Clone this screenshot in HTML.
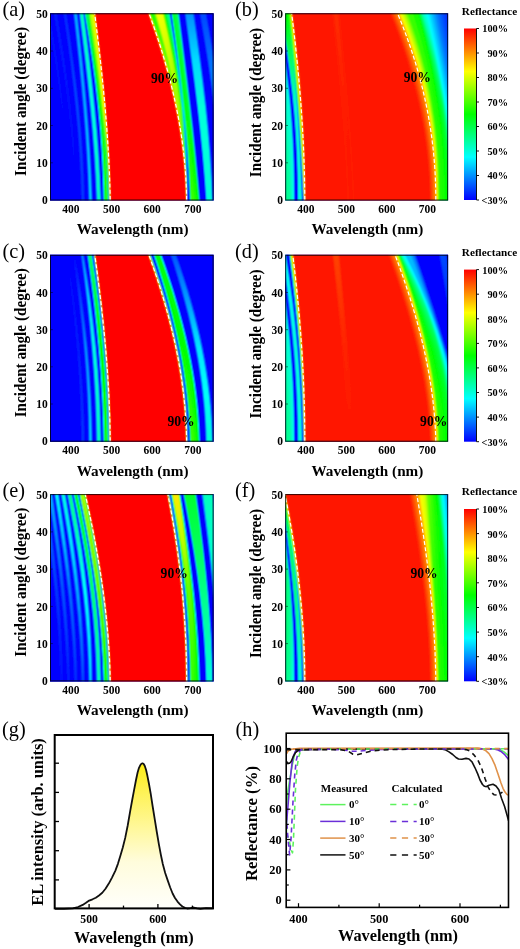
<!DOCTYPE html>
<html><head><meta charset="utf-8"><title>Figure</title>
<style>
html,body{margin:0;padding:0;background:#fff}
svg{display:block}
text{font-family:'Liberation Serif',serif;fill:#000}
.t{font-size:11.5px;font-weight:bold}
.t2{font-size:12.3px;font-weight:bold}
.tg{font-size:11.7px;font-weight:bold}
.axg{font-size:16.4px;font-weight:bold}
.axh{font-size:16.8px;font-weight:bold}
.ax{font-size:15.2px;font-weight:bold}
.ax2{font-size:16.3px;font-weight:bold}
.pl{font-size:20.3px}
.l90{font-size:13.6px;font-weight:bold}
.cb{font-size:10.3px;font-weight:bold}
.cbt{font-size:11.2px;font-weight:bold}
.lg{font-size:11px;font-weight:bold}
</style></head>
<body>
<svg width="520" height="949" viewBox="0 0 520 949">
<defs>
<filter id="bl" x="-2%" y="-2%" width="104%" height="104%"><feConvolveMatrix order="3 3" kernelMatrix=".03 .14 .03 .14 .32 .14 .03 .14 .03" edgeMode="duplicate" preserveAlpha="true"/></filter>
<clipPath id="ca"><rect x="50" y="13.3" width="163.6" height="187.2"/></clipPath><linearGradient id="g1" gradientUnits="userSpaceOnUse" x1="0" y1="200.0" x2="0" y2="13.8"><stop offset="0" stop-color="#00f"/><stop offset="0.25" stop-color="#0004ff"/><stop offset="0.5" stop-color="#0007ff"/><stop offset="0.75" stop-color="#000fff"/><stop offset="1" stop-color="#0016ff"/></linearGradient><linearGradient id="g2" gradientUnits="userSpaceOnUse" x1="0" y1="200.0" x2="0" y2="13.8"><stop offset="0" stop-color="#00f"/><stop offset="0.25" stop-color="#0004ff"/><stop offset="0.5" stop-color="#0007ff"/><stop offset="0.75" stop-color="#000bff"/><stop offset="1" stop-color="#000fff"/></linearGradient><linearGradient id="g3" gradientUnits="userSpaceOnUse" x1="0" y1="200.0" x2="0" y2="13.8"><stop offset="0" stop-color="#00f"/><stop offset="0.25" stop-color="#0007ff"/><stop offset="0.5" stop-color="#000fff"/><stop offset="0.75" stop-color="#0016ff"/><stop offset="1" stop-color="#001dff"/></linearGradient><linearGradient id="g4" gradientUnits="userSpaceOnUse" x1="0" y1="200.0" x2="0" y2="13.8"><stop offset="0" stop-color="#00f"/><stop offset="0.25" stop-color="#0004ff"/><stop offset="0.5" stop-color="#0007ff"/><stop offset="0.75" stop-color="#000bff"/><stop offset="1" stop-color="#000fff"/></linearGradient><linearGradient id="g5" gradientUnits="userSpaceOnUse" x1="0" y1="200.0" x2="0" y2="13.8"><stop offset="0" stop-color="#001dff"/><stop offset="0.25" stop-color="#0021ff"/><stop offset="0.5" stop-color="#0024ff"/><stop offset="0.75" stop-color="#001dff"/><stop offset="1" stop-color="#0016ff"/></linearGradient><linearGradient id="g6" gradientUnits="userSpaceOnUse" x1="0" y1="200.0" x2="0" y2="13.8"><stop offset="0" stop-color="#003aff"/><stop offset="0.25" stop-color="#0042ff"/><stop offset="0.5" stop-color="#0049ff"/><stop offset="0.75" stop-color="#003aff"/><stop offset="1" stop-color="#002cff"/></linearGradient><linearGradient id="g7" gradientUnits="userSpaceOnUse" x1="0" y1="200.0" x2="0" y2="13.8"><stop offset="0" stop-color="#001dff"/><stop offset="0.25" stop-color="#0021ff"/><stop offset="0.5" stop-color="#0024ff"/><stop offset="0.75" stop-color="#001dff"/><stop offset="1" stop-color="#0016ff"/></linearGradient><linearGradient id="g8" gradientUnits="userSpaceOnUse" x1="0" y1="200.0" x2="0" y2="13.8"><stop offset="0" stop-color="#006dff"/><stop offset="0.25" stop-color="#0062ff"/><stop offset="0.5" stop-color="#0057ff"/><stop offset="0.75" stop-color="#0057ff"/><stop offset="1" stop-color="#0057ff"/></linearGradient><linearGradient id="g9" gradientUnits="userSpaceOnUse" x1="0" y1="200.0" x2="0" y2="13.8"><stop offset="0" stop-color="#00dbff"/><stop offset="0.25" stop-color="#00c5ff"/><stop offset="0.5" stop-color="#00afff"/><stop offset="0.75" stop-color="#00afff"/><stop offset="1" stop-color="#00afff"/></linearGradient><linearGradient id="g10" gradientUnits="userSpaceOnUse" x1="0" y1="200.0" x2="0" y2="13.8"><stop offset="0" stop-color="#006dff"/><stop offset="0.25" stop-color="#0062ff"/><stop offset="0.5" stop-color="#0057ff"/><stop offset="0.75" stop-color="#0057ff"/><stop offset="1" stop-color="#0057ff"/></linearGradient><linearGradient id="g11" gradientUnits="userSpaceOnUse" x1="0" y1="200.0" x2="0" y2="13.8"><stop offset="0" stop-color="#00a0ff"/><stop offset="0.25" stop-color="#09f"/><stop offset="0.5" stop-color="#0092ff"/><stop offset="0.75" stop-color="#09f"/><stop offset="1" stop-color="#00a0ff"/></linearGradient><linearGradient id="g12" gradientUnits="userSpaceOnUse" x1="0" y1="200.0" x2="0" y2="13.8"><stop offset="0" stop-color="#00ffbd"/><stop offset="0.25" stop-color="#0fc"/><stop offset="0.5" stop-color="#00ffdb"/><stop offset="0.75" stop-color="#0fc"/><stop offset="1" stop-color="#00ffbd"/></linearGradient><linearGradient id="g13" gradientUnits="userSpaceOnUse" x1="0" y1="200.0" x2="0" y2="13.8"><stop offset="0" stop-color="#00a0ff"/><stop offset="0.25" stop-color="#09f"/><stop offset="0.5" stop-color="#0092ff"/><stop offset="0.75" stop-color="#09f"/><stop offset="1" stop-color="#00a0ff"/></linearGradient><linearGradient id="g14" gradientUnits="userSpaceOnUse" x1="0" y1="200.0" x2="0" y2="13.8"><stop offset="0" stop-color="#00fff8"/><stop offset="0.25" stop-color="#0ff"/><stop offset="0.5" stop-color="#00f8ff"/><stop offset="0.75" stop-color="#00e2ff"/><stop offset="1" stop-color="#0cf"/></linearGradient><linearGradient id="g15" gradientUnits="userSpaceOnUse" x1="0" y1="200.0" x2="0" y2="13.8"><stop offset="0" stop-color="#16ff00"/><stop offset="0.25" stop-color="#0bff00"/><stop offset="0.5" stop-color="#0f0"/><stop offset="0.75" stop-color="#00ff2f"/><stop offset="1" stop-color="#00ff5f"/></linearGradient><linearGradient id="g16" gradientUnits="userSpaceOnUse" x1="0" y1="200.0" x2="0" y2="13.8"><stop offset="0" stop-color="#24ff00"/><stop offset="0.25" stop-color="#21ff00"/><stop offset="0.5" stop-color="#1dff00"/><stop offset="0.75" stop-color="#00ff1a"/><stop offset="1" stop-color="#00ff50"/></linearGradient><linearGradient id="g17" gradientUnits="userSpaceOnUse" x1="0" y1="200.0" x2="0" y2="13.8"><stop offset="0" stop-color="#00ffa0"/><stop offset="0.25" stop-color="#00ff2c"/><stop offset="0.5" stop-color="#49ff00"/><stop offset="0.75" stop-color="#3aff00"/><stop offset="1" stop-color="#2cff00"/></linearGradient><linearGradient id="g18" gradientUnits="userSpaceOnUse" x1="0" y1="200.0" x2="0" y2="13.8"><stop offset="0" stop-color="#0092ff"/><stop offset="0.25" stop-color="#00ff79"/><stop offset="0.5" stop-color="#79ff00"/><stop offset="0.75" stop-color="#92ff00"/><stop offset="1" stop-color="#af0"/></linearGradient><linearGradient id="g19" gradientUnits="userSpaceOnUse" x1="0" y1="200.0" x2="0" y2="13.8"><stop offset="0" stop-color="#0092ff"/><stop offset="0.25" stop-color="#0f6"/><stop offset="0.5" stop-color="#a0ff00"/><stop offset="0.75" stop-color="#afff00"/><stop offset="1" stop-color="#bdff00"/></linearGradient><linearGradient id="g20" gradientUnits="userSpaceOnUse" x1="0" y1="200.0" x2="0" y2="13.8"><stop offset="0" stop-color="#0092ff"/><stop offset="0.25" stop-color="#00ff53"/><stop offset="0.5" stop-color="#c7ff00"/><stop offset="0.75" stop-color="#cf0"/><stop offset="1" stop-color="#d1ff00"/></linearGradient><linearGradient id="g21" gradientUnits="userSpaceOnUse" x1="0" y1="200.0" x2="0" y2="13.8"><stop offset="0" stop-color="#00ff49"/><stop offset="0.25" stop-color="#57ff00"/><stop offset="0.5" stop-color="#f8ff00"/><stop offset="0.75" stop-color="#f8ff00"/><stop offset="1" stop-color="#f8ff00"/></linearGradient><linearGradient id="g22" gradientUnits="userSpaceOnUse" x1="0" y1="200.0" x2="0" y2="13.8"><stop offset="0" stop-color="#ffdb00"/><stop offset="0.25" stop-color="#fc0"/><stop offset="0.5" stop-color="#ffbd00"/><stop offset="0.75" stop-color="#ffbd00"/><stop offset="1" stop-color="#ffbd00"/></linearGradient><linearGradient id="g23" gradientUnits="userSpaceOnUse" x1="0" y1="200.0" x2="0" y2="13.8"><stop offset="0" stop-color="#fff800"/><stop offset="0.25" stop-color="#ffde00"/><stop offset="0.5" stop-color="#ffc500"/><stop offset="0.75" stop-color="#ffd700"/><stop offset="1" stop-color="#ffe900"/></linearGradient><linearGradient id="g24" gradientUnits="userSpaceOnUse" x1="0" y1="200.0" x2="0" y2="13.8"><stop offset="0" stop-color="#3aff00"/><stop offset="0.25" stop-color="#87ff00"/><stop offset="0.5" stop-color="#d3ff00"/><stop offset="0.75" stop-color="#9dff00"/><stop offset="1" stop-color="#6f0"/></linearGradient><linearGradient id="g25" gradientUnits="userSpaceOnUse" x1="0" y1="200.0" x2="0" y2="13.8"><stop offset="0" stop-color="#00ff49"/><stop offset="0.25" stop-color="#2cff00"/><stop offset="0.5" stop-color="#a0ff00"/><stop offset="0.75" stop-color="#5aff00"/><stop offset="1" stop-color="#13ff00"/></linearGradient><linearGradient id="g26" gradientUnits="userSpaceOnUse" x1="0" y1="200.0" x2="0" y2="13.8"><stop offset="0" stop-color="#00ff83"/><stop offset="0.25" stop-color="#0fff00"/><stop offset="0.5" stop-color="#a0ff00"/><stop offset="0.75" stop-color="#5fff00"/><stop offset="1" stop-color="#1dff00"/></linearGradient><linearGradient id="g27" gradientUnits="userSpaceOnUse" x1="0" y1="200.0" x2="0" y2="13.8"><stop offset="0" stop-color="#00ffbd"/><stop offset="0.25" stop-color="#00ff0f"/><stop offset="0.5" stop-color="#a0ff00"/><stop offset="0.75" stop-color="#64ff00"/><stop offset="1" stop-color="#27ff00"/></linearGradient><linearGradient id="g28" gradientUnits="userSpaceOnUse" x1="0" y1="200.0" x2="0" y2="13.8"><stop offset="0" stop-color="#00ffed"/><stop offset="0.25" stop-color="#00ff26"/><stop offset="0.5" stop-color="#a0ff00"/><stop offset="0.75" stop-color="#80ff00"/><stop offset="1" stop-color="#5fff00"/></linearGradient><linearGradient id="g29" gradientUnits="userSpaceOnUse" x1="0" y1="200.0" x2="0" y2="13.8"><stop offset="0" stop-color="#00edff"/><stop offset="0.25" stop-color="#00ff38"/><stop offset="0.5" stop-color="#a0ff00"/><stop offset="0.75" stop-color="#b2ff00"/><stop offset="1" stop-color="#c5ff00"/></linearGradient><linearGradient id="g30" gradientUnits="userSpaceOnUse" x1="0" y1="200.0" x2="0" y2="13.8"><stop offset="0" stop-color="#00ceff"/><stop offset="0.25" stop-color="#00ff4c"/><stop offset="0.5" stop-color="#97ff00"/><stop offset="0.75" stop-color="#c7ff00"/><stop offset="1" stop-color="#f8ff00"/></linearGradient><linearGradient id="g31" gradientUnits="userSpaceOnUse" x1="0" y1="200.0" x2="0" y2="13.8"><stop offset="0" stop-color="#00b6ff"/><stop offset="0.25" stop-color="#00ff62"/><stop offset="0.5" stop-color="#83ff00"/><stop offset="0.75" stop-color="#bdff00"/><stop offset="1" stop-color="#f8ff00"/></linearGradient><linearGradient id="g32" gradientUnits="userSpaceOnUse" x1="0" y1="200.0" x2="0" y2="13.8"><stop offset="0" stop-color="#009eff"/><stop offset="0.25" stop-color="#00ff78"/><stop offset="0.5" stop-color="#70ff00"/><stop offset="0.75" stop-color="#b4ff00"/><stop offset="1" stop-color="#f8ff00"/></linearGradient><linearGradient id="g33" gradientUnits="userSpaceOnUse" x1="0" y1="200.0" x2="0" y2="13.8"><stop offset="0" stop-color="#0080ff"/><stop offset="0.25" stop-color="#00ff94"/><stop offset="0.5" stop-color="#57ff00"/><stop offset="0.75" stop-color="#8aff00"/><stop offset="1" stop-color="#bdff00"/></linearGradient><linearGradient id="g34" gradientUnits="userSpaceOnUse" x1="0" y1="200.0" x2="0" y2="13.8"><stop offset="0" stop-color="#005bff"/><stop offset="0.25" stop-color="#00ffb4"/><stop offset="0.5" stop-color="#3aff00"/><stop offset="0.75" stop-color="#42ff00"/><stop offset="1" stop-color="#49ff00"/></linearGradient><linearGradient id="g35" gradientUnits="userSpaceOnUse" x1="0" y1="200.0" x2="0" y2="13.8"><stop offset="0" stop-color="#0042ff"/><stop offset="0.25" stop-color="#00ffca"/><stop offset="0.5" stop-color="#28ff00"/><stop offset="0.75" stop-color="#0bff00"/><stop offset="1" stop-color="#00ff12"/></linearGradient><linearGradient id="g36" gradientUnits="userSpaceOnUse" x1="0" y1="200.0" x2="0" y2="13.8"><stop offset="0" stop-color="#03f"/><stop offset="0.25" stop-color="#00ffd5"/><stop offset="0.5" stop-color="#21ff00"/><stop offset="0.75" stop-color="#00ff1a"/><stop offset="1" stop-color="#00ff54"/></linearGradient><linearGradient id="g37" gradientUnits="userSpaceOnUse" x1="0" y1="200.0" x2="0" y2="13.8"><stop offset="0" stop-color="#0028ff"/><stop offset="0.25" stop-color="#00ffde"/><stop offset="0.5" stop-color="#1aff00"/><stop offset="0.75" stop-color="#0f3"/><stop offset="1" stop-color="#00ff80"/></linearGradient><linearGradient id="g38" gradientUnits="userSpaceOnUse" x1="0" y1="200.0" x2="0" y2="13.8"><stop offset="0" stop-color="#0021ff"/><stop offset="0.25" stop-color="#00ffe6"/><stop offset="0.5" stop-color="#12ff00"/><stop offset="0.75" stop-color="#00ff42"/><stop offset="1" stop-color="#00ff95"/></linearGradient><linearGradient id="g39" gradientUnits="userSpaceOnUse" x1="0" y1="200.0" x2="0" y2="13.8"><stop offset="0" stop-color="#000fff"/><stop offset="0.25" stop-color="#00c1ff"/><stop offset="0.5" stop-color="#00ff8a"/><stop offset="0.75" stop-color="#00ffed"/><stop offset="1" stop-color="#00afff"/></linearGradient><linearGradient id="g40" gradientUnits="userSpaceOnUse" x1="0" y1="200.0" x2="0" y2="13.8"><stop offset="0" stop-color="#00f"/><stop offset="0.25" stop-color="#006dff"/><stop offset="0.5" stop-color="#00dbff"/><stop offset="0.75" stop-color="#006dff"/><stop offset="1" stop-color="#00f"/></linearGradient><linearGradient id="g41" gradientUnits="userSpaceOnUse" x1="0" y1="200.0" x2="0" y2="13.8"><stop offset="0" stop-color="#00ffdb"/><stop offset="0.25" stop-color="#00ffba"/><stop offset="0.5" stop-color="#0f9"/><stop offset="0.75" stop-color="#00ffd7"/><stop offset="1" stop-color="#00e9ff"/></linearGradient><linearGradient id="g42" gradientUnits="userSpaceOnUse" x1="0" y1="200.0" x2="0" y2="13.8"><stop offset="0" stop-color="#3aff00"/><stop offset="0.25" stop-color="#16ff00"/><stop offset="0.5" stop-color="#00ff0f"/><stop offset="0.75" stop-color="#00ff1d"/><stop offset="1" stop-color="#00ff2c"/></linearGradient><linearGradient id="g43" gradientUnits="userSpaceOnUse" x1="0" y1="200.0" x2="0" y2="13.8"><stop offset="0" stop-color="#1dff00"/><stop offset="0.25" stop-color="#0f0"/><stop offset="0.5" stop-color="#00ff1d"/><stop offset="0.75" stop-color="#00ff2c"/><stop offset="1" stop-color="#00ff3a"/></linearGradient><linearGradient id="g44" gradientUnits="userSpaceOnUse" x1="0" y1="200.0" x2="0" y2="13.8"><stop offset="0" stop-color="#0f0"/><stop offset="0.25" stop-color="#00ff1d"/><stop offset="0.5" stop-color="#00ff3a"/><stop offset="0.75" stop-color="#00ff49"/><stop offset="1" stop-color="#00ff57"/></linearGradient><linearGradient id="g45" gradientUnits="userSpaceOnUse" x1="0" y1="200.0" x2="0" y2="13.8"><stop offset="0" stop-color="#00ff8a"/><stop offset="0.25" stop-color="#00ffa0"/><stop offset="0.5" stop-color="#00ffb6"/><stop offset="0.75" stop-color="#00ffc1"/><stop offset="1" stop-color="#0fc"/></linearGradient><linearGradient id="g46" gradientUnits="userSpaceOnUse" x1="0" y1="200.0" x2="0" y2="13.8"><stop offset="0" stop-color="#007cff"/><stop offset="0.25" stop-color="#0075ff"/><stop offset="0.5" stop-color="#006dff"/><stop offset="0.75" stop-color="#006aff"/><stop offset="1" stop-color="#06f"/></linearGradient><linearGradient id="g47" gradientUnits="userSpaceOnUse" x1="0" y1="200.0" x2="0" y2="13.8"><stop offset="0" stop-color="#0049ff"/><stop offset="0.25" stop-color="#0049ff"/><stop offset="0.5" stop-color="#0049ff"/><stop offset="0.75" stop-color="#0037ff"/><stop offset="1" stop-color="#0024ff"/></linearGradient><linearGradient id="g48" gradientUnits="userSpaceOnUse" x1="0" y1="200.0" x2="0" y2="13.8"><stop offset="0" stop-color="#00dbff"/><stop offset="0.25" stop-color="#00dbff"/><stop offset="0.5" stop-color="#00dbff"/><stop offset="0.75" stop-color="#00a4ff"/><stop offset="1" stop-color="#006dff"/></linearGradient><linearGradient id="g49" gradientUnits="userSpaceOnUse" x1="0" y1="200.0" x2="0" y2="13.8"><stop offset="0" stop-color="#00ffdb"/><stop offset="0.25" stop-color="#00ffdb"/><stop offset="0.5" stop-color="#00ffdb"/><stop offset="0.75" stop-color="#00dbff"/><stop offset="1" stop-color="#0092ff"/></linearGradient><linearGradient id="g50" gradientUnits="userSpaceOnUse" x1="0" y1="200.0" x2="0" y2="13.8"><stop offset="0" stop-color="#0092ff"/><stop offset="0.25" stop-color="#0092ff"/><stop offset="0.5" stop-color="#0092ff"/><stop offset="0.75" stop-color="#006dff"/><stop offset="1" stop-color="#0049ff"/></linearGradient><linearGradient id="g51" gradientUnits="userSpaceOnUse" x1="0" y1="200.0" x2="0" y2="13.8"><stop offset="0" stop-color="#006dff"/><stop offset="0.25" stop-color="#005bff"/><stop offset="0.5" stop-color="#0049ff"/><stop offset="0.75" stop-color="#0037ff"/><stop offset="1" stop-color="#0024ff"/></linearGradient><linearGradient id="g52" gradientUnits="userSpaceOnUse" x1="0" y1="200.0" x2="0" y2="13.8"><stop offset="0" stop-color="#00dbff"/><stop offset="0.25" stop-color="#00b6ff"/><stop offset="0.5" stop-color="#0092ff"/><stop offset="0.75" stop-color="#006dff"/><stop offset="1" stop-color="#0049ff"/></linearGradient><linearGradient id="g53" gradientUnits="userSpaceOnUse" x1="0" y1="200.0" x2="0" y2="13.8"><stop offset="0" stop-color="#006dff"/><stop offset="0.25" stop-color="#005bff"/><stop offset="0.5" stop-color="#0049ff"/><stop offset="0.75" stop-color="#0037ff"/><stop offset="1" stop-color="#0024ff"/></linearGradient><clipPath id="cb"><rect x="285.2" y="13.3" width="162.9" height="187.2"/></clipPath><linearGradient id="g54" gradientUnits="userSpaceOnUse" x1="0" y1="200.0" x2="0" y2="13.8"><stop offset="0" stop-color="#00ff92"/><stop offset="0.25" stop-color="#00ff97"/><stop offset="0.5" stop-color="#00ff9d"/><stop offset="0.75" stop-color="#00ffbf"/><stop offset="1" stop-color="#00ffe2"/></linearGradient><linearGradient id="g55" gradientUnits="userSpaceOnUse" x1="0" y1="200.0" x2="0" y2="13.8"><stop offset="0" stop-color="#00ff92"/><stop offset="0.25" stop-color="#00ffa2"/><stop offset="0.5" stop-color="#00ffb2"/><stop offset="0.75" stop-color="#00ffd1"/><stop offset="1" stop-color="#00fff0"/></linearGradient><linearGradient id="g56" gradientUnits="userSpaceOnUse" x1="0" y1="200.0" x2="0" y2="13.8"><stop offset="0" stop-color="#00ff9e"/><stop offset="0.25" stop-color="#00ffb0"/><stop offset="0.5" stop-color="#00ffc1"/><stop offset="0.75" stop-color="#00ffdf"/><stop offset="1" stop-color="#00fffd"/></linearGradient><linearGradient id="g57" gradientUnits="userSpaceOnUse" x1="0" y1="200.0" x2="0" y2="13.8"><stop offset="0" stop-color="#00ffb8"/><stop offset="0.25" stop-color="#00ffc0"/><stop offset="0.5" stop-color="#00ffc8"/><stop offset="0.75" stop-color="#00ffe8"/><stop offset="1" stop-color="#00f6ff"/></linearGradient><linearGradient id="g58" gradientUnits="userSpaceOnUse" x1="0" y1="200.0" x2="0" y2="13.8"><stop offset="0" stop-color="#00ffd1"/><stop offset="0.25" stop-color="#00ffd1"/><stop offset="0.5" stop-color="#00ffd0"/><stop offset="0.75" stop-color="#00fff1"/><stop offset="1" stop-color="#00ebff"/></linearGradient><linearGradient id="g59" gradientUnits="userSpaceOnUse" x1="0" y1="200.0" x2="0" y2="13.8"><stop offset="0" stop-color="#00ffeb"/><stop offset="0.25" stop-color="#00ffe1"/><stop offset="0.5" stop-color="#00ffd7"/><stop offset="0.75" stop-color="#00fffa"/><stop offset="1" stop-color="#00e0ff"/></linearGradient><linearGradient id="g60" gradientUnits="userSpaceOnUse" x1="0" y1="200.0" x2="0" y2="13.8"><stop offset="0" stop-color="#0083ff"/><stop offset="0.25" stop-color="#008aff"/><stop offset="0.5" stop-color="#0092ff"/><stop offset="0.75" stop-color="#0080ff"/><stop offset="1" stop-color="#006dff"/></linearGradient><linearGradient id="g61" gradientUnits="userSpaceOnUse" x1="0" y1="200.0" x2="0" y2="13.8"><stop offset="0" stop-color="#0049ff"/><stop offset="0.25" stop-color="#0049ff"/><stop offset="0.5" stop-color="#0049ff"/><stop offset="0.75" stop-color="#0062ff"/><stop offset="1" stop-color="#007cff"/></linearGradient><linearGradient id="g62" gradientUnits="userSpaceOnUse" x1="0" y1="200.0" x2="0" y2="13.8"><stop offset="0" stop-color="#00dbff"/><stop offset="0.25" stop-color="#00dbff"/><stop offset="0.5" stop-color="#00dbff"/><stop offset="0.75" stop-color="#00ffd7"/><stop offset="1" stop-color="#00ff8a"/></linearGradient><linearGradient id="g63" gradientUnits="userSpaceOnUse" x1="0" y1="200.0" x2="0" y2="13.8"><stop offset="0" stop-color="#00ffdb"/><stop offset="0.25" stop-color="#00ffd3"/><stop offset="0.5" stop-color="#0fc"/><stop offset="0.75" stop-color="#0f6"/><stop offset="1" stop-color="#0f0"/></linearGradient><linearGradient id="g64" gradientUnits="userSpaceOnUse" x1="0" y1="200.0" x2="0" y2="13.8"><stop offset="0" stop-color="#00a0ff"/><stop offset="0.25" stop-color="#00c5ff"/><stop offset="0.5" stop-color="#00e9ff"/><stop offset="0.75" stop-color="#00ff7c"/><stop offset="1" stop-color="#1dff00"/></linearGradient><linearGradient id="g65" gradientUnits="userSpaceOnUse" x1="0" y1="200.0" x2="0" y2="13.8"><stop offset="0" stop-color="#001dff"/><stop offset="0.25" stop-color="#0057ff"/><stop offset="0.5" stop-color="#0092ff"/><stop offset="0.75" stop-color="#0f9"/><stop offset="1" stop-color="#3aff00"/></linearGradient><linearGradient id="g66" gradientUnits="userSpaceOnUse" x1="0" y1="200.0" x2="0" y2="13.8"><stop offset="0" stop-color="#00ffa0"/><stop offset="0.25" stop-color="#00ffa8"/><stop offset="0.5" stop-color="#00ffaf"/><stop offset="0.75" stop-color="#00ff2c"/><stop offset="1" stop-color="#57ff00"/></linearGradient><linearGradient id="g67" gradientUnits="userSpaceOnUse" x1="0" y1="200.0" x2="0" y2="13.8"><stop offset="0" stop-color="#b6ff00"/><stop offset="0.25" stop-color="#80ff00"/><stop offset="0.5" stop-color="#49ff00"/><stop offset="0.75" stop-color="#6aff00"/><stop offset="1" stop-color="#8aff00"/></linearGradient><linearGradient id="g68" gradientUnits="userSpaceOnUse" x1="0" y1="200.0" x2="0" y2="13.8"><stop offset="0" stop-color="#e2ff00"/><stop offset="0.25" stop-color="#d0ff00"/><stop offset="0.5" stop-color="#bdff00"/><stop offset="0.75" stop-color="#c8ff00"/><stop offset="1" stop-color="#d3ff00"/></linearGradient><linearGradient id="g69" gradientUnits="userSpaceOnUse" x1="0" y1="200.0" x2="0" y2="13.8"><stop offset="0" stop-color="#ff1400"/><stop offset="0.25" stop-color="#ff1800"/><stop offset="0.5" stop-color="#ff1c00"/><stop offset="0.75" stop-color="#ff2400"/><stop offset="1" stop-color="#ff2c00"/></linearGradient><linearGradient id="g70" gradientUnits="userSpaceOnUse" x1="0" y1="200.0" x2="0" y2="13.8"><stop offset="0" stop-color="#bdff00"/><stop offset="0.25" stop-color="#c1ff00"/><stop offset="0.5" stop-color="#c5ff00"/><stop offset="0.75" stop-color="#cf0"/><stop offset="1" stop-color="#d3ff00"/></linearGradient><linearGradient id="g71" gradientUnits="userSpaceOnUse" x1="0" y1="200.0" x2="0" y2="13.8"><stop offset="0" stop-color="#97ff00"/><stop offset="0.25" stop-color="#9dff00"/><stop offset="0.5" stop-color="#a3ff00"/><stop offset="0.75" stop-color="#afff00"/><stop offset="1" stop-color="#bf0"/></linearGradient><linearGradient id="g72" gradientUnits="userSpaceOnUse" x1="0" y1="200.0" x2="0" y2="13.8"><stop offset="0" stop-color="#75ff00"/><stop offset="0.25" stop-color="#7bff00"/><stop offset="0.5" stop-color="#81ff00"/><stop offset="0.75" stop-color="#8fff00"/><stop offset="1" stop-color="#9eff00"/></linearGradient><linearGradient id="g73" gradientUnits="userSpaceOnUse" x1="0" y1="200.0" x2="0" y2="13.8"><stop offset="0" stop-color="#57ff00"/><stop offset="0.25" stop-color="#5bff00"/><stop offset="0.5" stop-color="#5fff00"/><stop offset="0.75" stop-color="#6dff00"/><stop offset="1" stop-color="#7cff00"/></linearGradient><linearGradient id="g74" gradientUnits="userSpaceOnUse" x1="0" y1="200.0" x2="0" y2="13.8"><stop offset="0" stop-color="#3aff00"/><stop offset="0.25" stop-color="#3cff00"/><stop offset="0.5" stop-color="#3dff00"/><stop offset="0.75" stop-color="#4bff00"/><stop offset="1" stop-color="#5aff00"/></linearGradient><linearGradient id="g75" gradientUnits="userSpaceOnUse" x1="0" y1="200.0" x2="0" y2="13.8"><stop offset="0" stop-color="#24ff00"/><stop offset="0.25" stop-color="#24ff00"/><stop offset="0.5" stop-color="#24ff00"/><stop offset="0.75" stop-color="#2fff00"/><stop offset="1" stop-color="#3aff00"/></linearGradient><linearGradient id="g76" gradientUnits="userSpaceOnUse" x1="0" y1="200.0" x2="0" y2="13.8"><stop offset="0" stop-color="#0cff00"/><stop offset="0.25" stop-color="#09ff00"/><stop offset="0.5" stop-color="#06ff00"/><stop offset="0.75" stop-color="#0f0"/><stop offset="1" stop-color="#00ff06"/></linearGradient><linearGradient id="g77" gradientUnits="userSpaceOnUse" x1="0" y1="200.0" x2="0" y2="13.8"><stop offset="0" stop-color="#06ff00"/><stop offset="0.25" stop-color="#00ff03"/><stop offset="0.5" stop-color="#00ff0c"/><stop offset="0.75" stop-color="#00ff1d"/><stop offset="1" stop-color="#00ff2f"/></linearGradient><linearGradient id="g78" gradientUnits="userSpaceOnUse" x1="0" y1="200.0" x2="0" y2="13.8"><stop offset="0" stop-color="#0f0"/><stop offset="0.25" stop-color="#00ff0f"/><stop offset="0.5" stop-color="#00ff1d"/><stop offset="0.75" stop-color="#00ff3a"/><stop offset="1" stop-color="#00ff57"/></linearGradient><linearGradient id="g79" gradientUnits="userSpaceOnUse" x1="0" y1="200.0" x2="0" y2="13.8"><stop offset="0" stop-color="#00ff06"/><stop offset="0.25" stop-color="#00ff1a"/><stop offset="0.5" stop-color="#00ff2f"/><stop offset="0.75" stop-color="#00ff57"/><stop offset="1" stop-color="#00ff80"/></linearGradient><linearGradient id="g80" gradientUnits="userSpaceOnUse" x1="0" y1="200.0" x2="0" y2="13.8"><stop offset="0" stop-color="#00ff0c"/><stop offset="0.25" stop-color="#00ff26"/><stop offset="0.5" stop-color="#00ff40"/><stop offset="0.75" stop-color="#00ff75"/><stop offset="1" stop-color="#00ffa9"/></linearGradient><linearGradient id="g81" gradientUnits="userSpaceOnUse" x1="0" y1="200.0" x2="0" y2="13.8"><stop offset="0" stop-color="#00ff23"/><stop offset="0.25" stop-color="#00ff3f"/><stop offset="0.5" stop-color="#00ff5a"/><stop offset="0.75" stop-color="#00ff90"/><stop offset="1" stop-color="#00ffc5"/></linearGradient><linearGradient id="g82" gradientUnits="userSpaceOnUse" x1="0" y1="200.0" x2="0" y2="13.8"><stop offset="0" stop-color="#00ff4c"/><stop offset="0.25" stop-color="#00ff65"/><stop offset="0.5" stop-color="#00ff7d"/><stop offset="0.75" stop-color="#00ffa8"/><stop offset="1" stop-color="#00ffd3"/></linearGradient><linearGradient id="g83" gradientUnits="userSpaceOnUse" x1="0" y1="200.0" x2="0" y2="13.8"><stop offset="0" stop-color="#00ff75"/><stop offset="0.25" stop-color="#00ff8a"/><stop offset="0.5" stop-color="#00ffa0"/><stop offset="0.75" stop-color="#00ffc1"/><stop offset="1" stop-color="#00ffe2"/></linearGradient><linearGradient id="g84" gradientUnits="userSpaceOnUse" x1="0" y1="200.0" x2="0" y2="13.8"><stop offset="0" stop-color="#00ff9d"/><stop offset="0.25" stop-color="#00ffb0"/><stop offset="0.5" stop-color="#00ffc3"/><stop offset="0.75" stop-color="#00ffda"/><stop offset="1" stop-color="#00fff0"/></linearGradient><linearGradient id="g85" gradientUnits="userSpaceOnUse" x1="0" y1="200.0" x2="0" y2="13.8"><stop offset="0" stop-color="#00ffc6"/><stop offset="0.25" stop-color="#00ffd6"/><stop offset="0.5" stop-color="#00ffe6"/><stop offset="0.75" stop-color="#00fff3"/><stop offset="1" stop-color="#0ff"/></linearGradient><linearGradient id="g86" gradientUnits="userSpaceOnUse" x1="0" y1="200.0" x2="0" y2="13.8"><stop offset="0" stop-color="#00ffe9"/><stop offset="0.25" stop-color="#00fff6"/><stop offset="0.5" stop-color="#00fbff"/><stop offset="0.75" stop-color="#00f3ff"/><stop offset="1" stop-color="#00ebff"/></linearGradient><linearGradient id="g87" gradientUnits="userSpaceOnUse" x1="0" y1="200.0" x2="0" y2="13.8"><stop offset="0" stop-color="#00f8ff"/><stop offset="0.25" stop-color="#0ef"/><stop offset="0.5" stop-color="#00e3ff"/><stop offset="0.75" stop-color="#00daff"/><stop offset="1" stop-color="#00d0ff"/></linearGradient><linearGradient id="g88" gradientUnits="userSpaceOnUse" x1="0" y1="200.0" x2="0" y2="13.8"><stop offset="0" stop-color="#00dbff"/><stop offset="0.25" stop-color="#00d3ff"/><stop offset="0.5" stop-color="#0cf"/><stop offset="0.75" stop-color="#00c1ff"/><stop offset="1" stop-color="#00b6ff"/></linearGradient><linearGradient id="g89" gradientUnits="userSpaceOnUse" x1="0" y1="200.0" x2="0" y2="13.8"><stop offset="0" stop-color="#00bdff"/><stop offset="0.25" stop-color="#00b9ff"/><stop offset="0.5" stop-color="#00b5ff"/><stop offset="0.75" stop-color="#00a8ff"/><stop offset="1" stop-color="#009cff"/></linearGradient><linearGradient id="g90" gradientUnits="userSpaceOnUse" x1="0" y1="200.0" x2="0" y2="13.8"><stop offset="0" stop-color="#00a0ff"/><stop offset="0.25" stop-color="#009fff"/><stop offset="0.5" stop-color="#009dff"/><stop offset="0.75" stop-color="#0090ff"/><stop offset="1" stop-color="#0082ff"/></linearGradient><linearGradient id="g91" gradientUnits="userSpaceOnUse" x1="0" y1="200.0" x2="0" y2="13.8"><stop offset="0" stop-color="#0083ff"/><stop offset="0.25" stop-color="#0085ff"/><stop offset="0.5" stop-color="#0086ff"/><stop offset="0.75" stop-color="#007aff"/><stop offset="1" stop-color="#006dff"/></linearGradient><linearGradient id="g92" gradientUnits="userSpaceOnUse" x1="0" y1="200.0" x2="0" y2="13.8"><stop offset="0" stop-color="#06f"/><stop offset="0.25" stop-color="#006aff"/><stop offset="0.5" stop-color="#006fff"/><stop offset="0.75" stop-color="#0067ff"/><stop offset="1" stop-color="#005fff"/></linearGradient><linearGradient id="g93" gradientUnits="userSpaceOnUse" x1="0" y1="200.0" x2="0" y2="13.8"><stop offset="0" stop-color="#0049ff"/><stop offset="0.25" stop-color="#0050ff"/><stop offset="0.5" stop-color="#0057ff"/><stop offset="0.75" stop-color="#0054ff"/><stop offset="1" stop-color="#0050ff"/></linearGradient><linearGradient id="g94" gradientUnits="userSpaceOnUse" x1="0" y1="200.0" x2="0" y2="13.8"><stop offset="0" stop-color="#002cff"/><stop offset="0.25" stop-color="#0036ff"/><stop offset="0.5" stop-color="#0040ff"/><stop offset="0.75" stop-color="#0041ff"/><stop offset="1" stop-color="#0042ff"/></linearGradient><linearGradient id="g95" gradientUnits="userSpaceOnUse" x1="0" y1="200.0" x2="0" y2="13.8"><stop offset="0" stop-color="#000fff"/><stop offset="0.25" stop-color="#001cff"/><stop offset="0.5" stop-color="#0029ff"/><stop offset="0.75" stop-color="#002eff"/><stop offset="1" stop-color="#03f"/></linearGradient><linearGradient id="g96" gradientUnits="userSpaceOnUse" x1="0" y1="200.0" x2="0" y2="13.8"><stop offset="0" stop-color="#00f"/><stop offset="0.25" stop-color="#000bff"/><stop offset="0.5" stop-color="#0016ff"/><stop offset="0.75" stop-color="#001bff"/><stop offset="1" stop-color="#0021ff"/></linearGradient><clipPath id="cc"><rect x="50" y="254.8" width="163.6" height="186.9"/></clipPath><linearGradient id="g97" gradientUnits="userSpaceOnUse" x1="0" y1="441.2" x2="0" y2="255.3"><stop offset="0" stop-color="#001dff"/><stop offset="0.25" stop-color="#0016ff"/><stop offset="0.5" stop-color="#000fff"/><stop offset="0.75" stop-color="#0007ff"/><stop offset="1" stop-color="#00f"/></linearGradient><linearGradient id="g98" gradientUnits="userSpaceOnUse" x1="0" y1="441.2" x2="0" y2="255.3"><stop offset="0" stop-color="#003aff"/><stop offset="0.25" stop-color="#002cff"/><stop offset="0.5" stop-color="#001dff"/><stop offset="0.75" stop-color="#000fff"/><stop offset="1" stop-color="#00f"/></linearGradient><linearGradient id="g99" gradientUnits="userSpaceOnUse" x1="0" y1="441.2" x2="0" y2="255.3"><stop offset="0" stop-color="#001dff"/><stop offset="0.25" stop-color="#0016ff"/><stop offset="0.5" stop-color="#000fff"/><stop offset="0.75" stop-color="#0007ff"/><stop offset="1" stop-color="#00f"/></linearGradient><linearGradient id="g100" gradientUnits="userSpaceOnUse" x1="0" y1="441.2" x2="0" y2="255.3"><stop offset="0" stop-color="#006dff"/><stop offset="0.25" stop-color="#005bff"/><stop offset="0.5" stop-color="#0049ff"/><stop offset="0.75" stop-color="#0024ff"/><stop offset="1" stop-color="#00f"/></linearGradient><linearGradient id="g101" gradientUnits="userSpaceOnUse" x1="0" y1="441.2" x2="0" y2="255.3"><stop offset="0" stop-color="#00dbff"/><stop offset="0.25" stop-color="#00b6ff"/><stop offset="0.5" stop-color="#0092ff"/><stop offset="0.75" stop-color="#0049ff"/><stop offset="1" stop-color="#00f"/></linearGradient><linearGradient id="g102" gradientUnits="userSpaceOnUse" x1="0" y1="441.2" x2="0" y2="255.3"><stop offset="0" stop-color="#006dff"/><stop offset="0.25" stop-color="#005bff"/><stop offset="0.5" stop-color="#0049ff"/><stop offset="0.75" stop-color="#0024ff"/><stop offset="1" stop-color="#00f"/></linearGradient><linearGradient id="g103" gradientUnits="userSpaceOnUse" x1="0" y1="441.2" x2="0" y2="255.3"><stop offset="0" stop-color="#00a0ff"/><stop offset="0.25" stop-color="#09f"/><stop offset="0.5" stop-color="#0092ff"/><stop offset="0.75" stop-color="#006dff"/><stop offset="1" stop-color="#0049ff"/></linearGradient><linearGradient id="g104" gradientUnits="userSpaceOnUse" x1="0" y1="441.2" x2="0" y2="255.3"><stop offset="0" stop-color="#00ffbd"/><stop offset="0.25" stop-color="#0fc"/><stop offset="0.5" stop-color="#00ffdb"/><stop offset="0.75" stop-color="#00dbff"/><stop offset="1" stop-color="#0092ff"/></linearGradient><linearGradient id="g105" gradientUnits="userSpaceOnUse" x1="0" y1="441.2" x2="0" y2="255.3"><stop offset="0" stop-color="#00a0ff"/><stop offset="0.25" stop-color="#09f"/><stop offset="0.5" stop-color="#0092ff"/><stop offset="0.75" stop-color="#006dff"/><stop offset="1" stop-color="#0049ff"/></linearGradient><linearGradient id="g106" gradientUnits="userSpaceOnUse" x1="0" y1="441.2" x2="0" y2="255.3"><stop offset="0" stop-color="#00fff8"/><stop offset="0.25" stop-color="#00fffb"/><stop offset="0.5" stop-color="#0ff"/><stop offset="0.75" stop-color="#00e6ff"/><stop offset="1" stop-color="#0cf"/></linearGradient><linearGradient id="g107" gradientUnits="userSpaceOnUse" x1="0" y1="441.2" x2="0" y2="255.3"><stop offset="0" stop-color="#0fff00"/><stop offset="0.25" stop-color="#07ff00"/><stop offset="0.5" stop-color="#0f0"/><stop offset="0.75" stop-color="#0f3"/><stop offset="1" stop-color="#0f6"/></linearGradient><linearGradient id="g108" gradientUnits="userSpaceOnUse" x1="0" y1="441.2" x2="0" y2="255.3"><stop offset="0" stop-color="#00ffd3"/><stop offset="0.25" stop-color="#00ffe9"/><stop offset="0.5" stop-color="#0ff"/><stop offset="0.75" stop-color="#00e6ff"/><stop offset="1" stop-color="#0cf"/></linearGradient><linearGradient id="g109" gradientUnits="userSpaceOnUse" x1="0" y1="441.2" x2="0" y2="255.3"><stop offset="0" stop-color="#0049ff"/><stop offset="0.25" stop-color="#0024ff"/><stop offset="0.5" stop-color="#00f"/><stop offset="0.75" stop-color="#00f"/><stop offset="1" stop-color="#00f"/></linearGradient><linearGradient id="g110" gradientUnits="userSpaceOnUse" x1="0" y1="441.2" x2="0" y2="255.3"><stop offset="0" stop-color="#00ffb6"/><stop offset="0.25" stop-color="#00ffed"/><stop offset="0.5" stop-color="#00dbff"/><stop offset="0.75" stop-color="#00dbff"/><stop offset="1" stop-color="#00dbff"/></linearGradient><linearGradient id="g111" gradientUnits="userSpaceOnUse" x1="0" y1="441.2" x2="0" y2="255.3"><stop offset="0" stop-color="#dbff00"/><stop offset="0.25" stop-color="#b6ff00"/><stop offset="0.5" stop-color="#92ff00"/><stop offset="0.75" stop-color="#92ff00"/><stop offset="1" stop-color="#92ff00"/></linearGradient><linearGradient id="g112" gradientUnits="userSpaceOnUse" x1="0" y1="441.2" x2="0" y2="255.3"><stop offset="0" stop-color="#00ffdb"/><stop offset="0.25" stop-color="#00ffe9"/><stop offset="0.5" stop-color="#00fff8"/><stop offset="0.75" stop-color="#0ff"/><stop offset="1" stop-color="#00f8ff"/></linearGradient><linearGradient id="g113" gradientUnits="userSpaceOnUse" x1="0" y1="441.2" x2="0" y2="255.3"><stop offset="0" stop-color="#3aff00"/><stop offset="0.25" stop-color="#21ff00"/><stop offset="0.5" stop-color="#07ff00"/><stop offset="0.75" stop-color="#00ff04"/><stop offset="1" stop-color="#00ff0f"/></linearGradient><linearGradient id="g114" gradientUnits="userSpaceOnUse" x1="0" y1="441.2" x2="0" y2="255.3"><stop offset="0" stop-color="#1dff00"/><stop offset="0.25" stop-color="#0dff00"/><stop offset="0.5" stop-color="#00ff04"/><stop offset="0.75" stop-color="#00ff09"/><stop offset="1" stop-color="#00ff0f"/></linearGradient><linearGradient id="g115" gradientUnits="userSpaceOnUse" x1="0" y1="441.2" x2="0" y2="255.3"><stop offset="0" stop-color="#0f0"/><stop offset="0.25" stop-color="#00ff05"/><stop offset="0.5" stop-color="#00ff0b"/><stop offset="0.75" stop-color="#00ff0d"/><stop offset="1" stop-color="#00ff0f"/></linearGradient><linearGradient id="g116" gradientUnits="userSpaceOnUse" x1="0" y1="441.2" x2="0" y2="255.3"><stop offset="0" stop-color="#0092ff"/><stop offset="0.25" stop-color="#0083ff"/><stop offset="0.5" stop-color="#0075ff"/><stop offset="0.75" stop-color="#0050ff"/><stop offset="1" stop-color="#002cff"/></linearGradient><linearGradient id="g117" gradientUnits="userSpaceOnUse" x1="0" y1="441.2" x2="0" y2="255.3"><stop offset="0" stop-color="#00ffdb"/><stop offset="0.25" stop-color="#00fff8"/><stop offset="0.5" stop-color="#00e9ff"/><stop offset="0.75" stop-color="#00a0ff"/><stop offset="1" stop-color="#0057ff"/></linearGradient><linearGradient id="g118" gradientUnits="userSpaceOnUse" x1="0" y1="441.2" x2="0" y2="255.3"><stop offset="0" stop-color="#0092ff"/><stop offset="0.25" stop-color="#0083ff"/><stop offset="0.5" stop-color="#0075ff"/><stop offset="0.75" stop-color="#0050ff"/><stop offset="1" stop-color="#002cff"/></linearGradient><clipPath id="cd"><rect x="285.2" y="254.8" width="162.9" height="186.9"/></clipPath><linearGradient id="g119" gradientUnits="userSpaceOnUse" x1="0" y1="441.2" x2="0" y2="255.3"><stop offset="0" stop-color="#00ff92"/><stop offset="0.25" stop-color="#00ff97"/><stop offset="0.5" stop-color="#00ff9d"/><stop offset="0.75" stop-color="#00ffbf"/><stop offset="1" stop-color="#00ffe2"/></linearGradient><linearGradient id="g120" gradientUnits="userSpaceOnUse" x1="0" y1="441.2" x2="0" y2="255.3"><stop offset="0" stop-color="#00ff92"/><stop offset="0.25" stop-color="#00ffa2"/><stop offset="0.5" stop-color="#00ffb2"/><stop offset="0.75" stop-color="#00ffd1"/><stop offset="1" stop-color="#00fff0"/></linearGradient><linearGradient id="g121" gradientUnits="userSpaceOnUse" x1="0" y1="441.2" x2="0" y2="255.3"><stop offset="0" stop-color="#00ff9e"/><stop offset="0.25" stop-color="#00ffb0"/><stop offset="0.5" stop-color="#00ffc1"/><stop offset="0.75" stop-color="#00ffdc"/><stop offset="1" stop-color="#00fff8"/></linearGradient><linearGradient id="g122" gradientUnits="userSpaceOnUse" x1="0" y1="441.2" x2="0" y2="255.3"><stop offset="0" stop-color="#00ffb8"/><stop offset="0.25" stop-color="#00ffc0"/><stop offset="0.5" stop-color="#00ffc8"/><stop offset="0.75" stop-color="#00ffe0"/><stop offset="1" stop-color="#00fff8"/></linearGradient><linearGradient id="g123" gradientUnits="userSpaceOnUse" x1="0" y1="441.2" x2="0" y2="255.3"><stop offset="0" stop-color="#00ffd1"/><stop offset="0.25" stop-color="#00ffd1"/><stop offset="0.5" stop-color="#00ffd0"/><stop offset="0.75" stop-color="#00ffe4"/><stop offset="1" stop-color="#00fff8"/></linearGradient><linearGradient id="g124" gradientUnits="userSpaceOnUse" x1="0" y1="441.2" x2="0" y2="255.3"><stop offset="0" stop-color="#00ffeb"/><stop offset="0.25" stop-color="#00ffe1"/><stop offset="0.5" stop-color="#00ffd7"/><stop offset="0.75" stop-color="#00ffe7"/><stop offset="1" stop-color="#00fff8"/></linearGradient><linearGradient id="g125" gradientUnits="userSpaceOnUse" x1="0" y1="441.2" x2="0" y2="255.3"><stop offset="0" stop-color="#0083ff"/><stop offset="0.25" stop-color="#008aff"/><stop offset="0.5" stop-color="#0092ff"/><stop offset="0.75" stop-color="#008aff"/><stop offset="1" stop-color="#0083ff"/></linearGradient><linearGradient id="g126" gradientUnits="userSpaceOnUse" x1="0" y1="441.2" x2="0" y2="255.3"><stop offset="0" stop-color="#0092ff"/><stop offset="0.25" stop-color="#0092ff"/><stop offset="0.5" stop-color="#0092ff"/><stop offset="0.75" stop-color="#008aff"/><stop offset="1" stop-color="#0083ff"/></linearGradient><linearGradient id="g127" gradientUnits="userSpaceOnUse" x1="0" y1="441.2" x2="0" y2="255.3"><stop offset="0" stop-color="#00ffdb"/><stop offset="0.25" stop-color="#00ffdb"/><stop offset="0.5" stop-color="#00ffdb"/><stop offset="0.75" stop-color="#00ffe9"/><stop offset="1" stop-color="#00fff8"/></linearGradient><linearGradient id="g128" gradientUnits="userSpaceOnUse" x1="0" y1="441.2" x2="0" y2="255.3"><stop offset="0" stop-color="#00a0ff"/><stop offset="0.25" stop-color="#09f"/><stop offset="0.5" stop-color="#0092ff"/><stop offset="0.75" stop-color="#008aff"/><stop offset="1" stop-color="#0083ff"/></linearGradient><linearGradient id="g129" gradientUnits="userSpaceOnUse" x1="0" y1="441.2" x2="0" y2="255.3"><stop offset="0" stop-color="#001dff"/><stop offset="0.25" stop-color="#000fff"/><stop offset="0.5" stop-color="#00f"/><stop offset="0.75" stop-color="#00f"/><stop offset="1" stop-color="#00f"/></linearGradient><linearGradient id="g130" gradientUnits="userSpaceOnUse" x1="0" y1="441.2" x2="0" y2="255.3"><stop offset="0" stop-color="#00ffa0"/><stop offset="0.25" stop-color="#00ffd3"/><stop offset="0.5" stop-color="#00f8ff"/><stop offset="0.75" stop-color="#00fff0"/><stop offset="1" stop-color="#00ffdb"/></linearGradient><linearGradient id="g131" gradientUnits="userSpaceOnUse" x1="0" y1="441.2" x2="0" y2="255.3"><stop offset="0" stop-color="#b6ff00"/><stop offset="0.25" stop-color="#6dff00"/><stop offset="0.5" stop-color="#24ff00"/><stop offset="0.75" stop-color="#4cff00"/><stop offset="1" stop-color="#75ff00"/></linearGradient><linearGradient id="g132" gradientUnits="userSpaceOnUse" x1="0" y1="441.2" x2="0" y2="255.3"><stop offset="0" stop-color="#e2ff00"/><stop offset="0.25" stop-color="#b6ff00"/><stop offset="0.5" stop-color="#8aff00"/><stop offset="0.75" stop-color="#abff00"/><stop offset="1" stop-color="#cf0"/></linearGradient><linearGradient id="g133" gradientUnits="userSpaceOnUse" x1="0" y1="441.2" x2="0" y2="255.3"><stop offset="0" stop-color="#fc0"/><stop offset="0.25" stop-color="#ffdb00"/><stop offset="0.5" stop-color="#ffe900"/><stop offset="0.75" stop-color="#ffdb00"/><stop offset="1" stop-color="#fc0"/></linearGradient><linearGradient id="g134" gradientUnits="userSpaceOnUse" x1="0" y1="441.2" x2="0" y2="255.3"><stop offset="0" stop-color="#ff1400"/><stop offset="0.25" stop-color="#ff1a00"/><stop offset="0.5" stop-color="#ff1f00"/><stop offset="0.75" stop-color="#ff2b00"/><stop offset="1" stop-color="#ff3600"/></linearGradient><linearGradient id="g135" gradientUnits="userSpaceOnUse" x1="0" y1="441.2" x2="0" y2="255.3"><stop offset="0" stop-color="#ff1400"/><stop offset="0.25" stop-color="#ff1c00"/><stop offset="0.5" stop-color="#ff2300"/><stop offset="0.75" stop-color="#ff3200"/><stop offset="1" stop-color="#ff4200"/></linearGradient><linearGradient id="g136" gradientUnits="userSpaceOnUse" x1="0" y1="441.2" x2="0" y2="255.3"><stop offset="0" stop-color="#ff1400"/><stop offset="0.25" stop-color="#ff1a00"/><stop offset="0.5" stop-color="#ff1f00"/><stop offset="0.75" stop-color="#ff2b00"/><stop offset="1" stop-color="#ff3600"/></linearGradient><linearGradient id="g137" gradientUnits="userSpaceOnUse" x1="0" y1="441.2" x2="0" y2="255.3"><stop offset="0" stop-color="#5fff00"/><stop offset="0.25" stop-color="#5fff00"/><stop offset="0.5" stop-color="#5fff00"/><stop offset="0.75" stop-color="#54ff00"/><stop offset="1" stop-color="#49ff00"/></linearGradient><linearGradient id="g138" gradientUnits="userSpaceOnUse" x1="0" y1="441.2" x2="0" y2="255.3"><stop offset="0" stop-color="#28ff00"/><stop offset="0.25" stop-color="#26ff00"/><stop offset="0.5" stop-color="#24ff00"/><stop offset="0.75" stop-color="#12ff00"/><stop offset="1" stop-color="#0f0"/></linearGradient><linearGradient id="g139" gradientUnits="userSpaceOnUse" x1="0" y1="441.2" x2="0" y2="255.3"><stop offset="0" stop-color="#21ff00"/><stop offset="0.25" stop-color="#1bff00"/><stop offset="0.5" stop-color="#16ff00"/><stop offset="0.75" stop-color="#00ff04"/><stop offset="1" stop-color="#00ff1d"/></linearGradient><linearGradient id="g140" gradientUnits="userSpaceOnUse" x1="0" y1="441.2" x2="0" y2="255.3"><stop offset="0" stop-color="#1aff00"/><stop offset="0.25" stop-color="#10ff00"/><stop offset="0.5" stop-color="#07ff00"/><stop offset="0.75" stop-color="#00ff1a"/><stop offset="1" stop-color="#00ff3a"/></linearGradient><linearGradient id="g141" gradientUnits="userSpaceOnUse" x1="0" y1="441.2" x2="0" y2="255.3"><stop offset="0" stop-color="#12ff00"/><stop offset="0.25" stop-color="#05ff00"/><stop offset="0.5" stop-color="#00ff07"/><stop offset="0.75" stop-color="#00ff2f"/><stop offset="1" stop-color="#00ff57"/></linearGradient><linearGradient id="g142" gradientUnits="userSpaceOnUse" x1="0" y1="441.2" x2="0" y2="255.3"><stop offset="0" stop-color="#0bff00"/><stop offset="0.25" stop-color="#00ff05"/><stop offset="0.5" stop-color="#00ff16"/><stop offset="0.75" stop-color="#00ff45"/><stop offset="1" stop-color="#00ff75"/></linearGradient><linearGradient id="g143" gradientUnits="userSpaceOnUse" x1="0" y1="441.2" x2="0" y2="255.3"><stop offset="0" stop-color="#04ff00"/><stop offset="0.25" stop-color="#00ff10"/><stop offset="0.5" stop-color="#00ff24"/><stop offset="0.75" stop-color="#00ff5b"/><stop offset="1" stop-color="#00ff92"/></linearGradient><linearGradient id="g144" gradientUnits="userSpaceOnUse" x1="0" y1="441.2" x2="0" y2="255.3"><stop offset="0" stop-color="#00ff04"/><stop offset="0.25" stop-color="#00ff1b"/><stop offset="0.5" stop-color="#0f3"/><stop offset="0.75" stop-color="#00ff71"/><stop offset="1" stop-color="#00ffaf"/></linearGradient><linearGradient id="g145" gradientUnits="userSpaceOnUse" x1="0" y1="441.2" x2="0" y2="255.3"><stop offset="0" stop-color="#00ff0b"/><stop offset="0.25" stop-color="#00ff26"/><stop offset="0.5" stop-color="#00ff42"/><stop offset="0.75" stop-color="#00ff87"/><stop offset="1" stop-color="#0fc"/></linearGradient><linearGradient id="g146" gradientUnits="userSpaceOnUse" x1="0" y1="441.2" x2="0" y2="255.3"><stop offset="0" stop-color="#00ff23"/><stop offset="0.25" stop-color="#00ff3f"/><stop offset="0.5" stop-color="#00ff5a"/><stop offset="0.75" stop-color="#00ff9d"/><stop offset="1" stop-color="#00ffdf"/></linearGradient><linearGradient id="g147" gradientUnits="userSpaceOnUse" x1="0" y1="441.2" x2="0" y2="255.3"><stop offset="0" stop-color="#00ff4c"/><stop offset="0.25" stop-color="#00ff65"/><stop offset="0.5" stop-color="#00ff7d"/><stop offset="0.75" stop-color="#00ffb2"/><stop offset="1" stop-color="#00ffe8"/></linearGradient><linearGradient id="g148" gradientUnits="userSpaceOnUse" x1="0" y1="441.2" x2="0" y2="255.3"><stop offset="0" stop-color="#00ff75"/><stop offset="0.25" stop-color="#00ff8a"/><stop offset="0.5" stop-color="#00ffa0"/><stop offset="0.75" stop-color="#00ffc8"/><stop offset="1" stop-color="#00fff0"/></linearGradient><linearGradient id="g149" gradientUnits="userSpaceOnUse" x1="0" y1="441.2" x2="0" y2="255.3"><stop offset="0" stop-color="#00ff9d"/><stop offset="0.25" stop-color="#00ffb0"/><stop offset="0.5" stop-color="#00ffc3"/><stop offset="0.75" stop-color="#00ffde"/><stop offset="1" stop-color="#00fff9"/></linearGradient><linearGradient id="g150" gradientUnits="userSpaceOnUse" x1="0" y1="441.2" x2="0" y2="255.3"><stop offset="0" stop-color="#00ffc6"/><stop offset="0.25" stop-color="#00ffd6"/><stop offset="0.5" stop-color="#00ffe6"/><stop offset="0.75" stop-color="#00fff4"/><stop offset="1" stop-color="#00fcff"/></linearGradient><linearGradient id="g151" gradientUnits="userSpaceOnUse" x1="0" y1="441.2" x2="0" y2="255.3"><stop offset="0" stop-color="#00ffe7"/><stop offset="0.25" stop-color="#00fff4"/><stop offset="0.5" stop-color="#00fdff"/><stop offset="0.75" stop-color="#00f4ff"/><stop offset="1" stop-color="#00ecff"/></linearGradient><linearGradient id="g152" gradientUnits="userSpaceOnUse" x1="0" y1="441.2" x2="0" y2="255.3"><stop offset="0" stop-color="#0ff"/><stop offset="0.25" stop-color="#00f4ff"/><stop offset="0.5" stop-color="#00e9ff"/><stop offset="0.75" stop-color="#00deff"/><stop offset="1" stop-color="#00d3ff"/></linearGradient><linearGradient id="g153" gradientUnits="userSpaceOnUse" x1="0" y1="441.2" x2="0" y2="255.3"><stop offset="0" stop-color="#00e7ff"/><stop offset="0.25" stop-color="#00deff"/><stop offset="0.5" stop-color="#00d6ff"/><stop offset="0.75" stop-color="#00c8ff"/><stop offset="1" stop-color="#0bf"/></linearGradient><linearGradient id="g154" gradientUnits="userSpaceOnUse" x1="0" y1="441.2" x2="0" y2="255.3"><stop offset="0" stop-color="#00ceff"/><stop offset="0.25" stop-color="#00c6ff"/><stop offset="0.5" stop-color="#00bdff"/><stop offset="0.75" stop-color="#00b9ff"/><stop offset="1" stop-color="#00b4ff"/></linearGradient><linearGradient id="g155" gradientUnits="userSpaceOnUse" x1="0" y1="441.2" x2="0" y2="255.3"><stop offset="0" stop-color="#00b6ff"/><stop offset="0.25" stop-color="#00abff"/><stop offset="0.5" stop-color="#00a0ff"/><stop offset="0.75" stop-color="#00afff"/><stop offset="1" stop-color="#00bdff"/></linearGradient><linearGradient id="g156" gradientUnits="userSpaceOnUse" x1="0" y1="441.2" x2="0" y2="255.3"><stop offset="0" stop-color="#009eff"/><stop offset="0.25" stop-color="#0091ff"/><stop offset="0.5" stop-color="#0083ff"/><stop offset="0.75" stop-color="#00a5ff"/><stop offset="1" stop-color="#00c7ff"/></linearGradient><linearGradient id="g157" gradientUnits="userSpaceOnUse" x1="0" y1="441.2" x2="0" y2="255.3"><stop offset="0" stop-color="#0083ff"/><stop offset="0.25" stop-color="#0075ff"/><stop offset="0.5" stop-color="#06f"/><stop offset="0.75" stop-color="#0092ff"/><stop offset="1" stop-color="#00bdff"/></linearGradient><linearGradient id="g158" gradientUnits="userSpaceOnUse" x1="0" y1="441.2" x2="0" y2="255.3"><stop offset="0" stop-color="#06f"/><stop offset="0.25" stop-color="#0057ff"/><stop offset="0.5" stop-color="#0049ff"/><stop offset="0.75" stop-color="#0075ff"/><stop offset="1" stop-color="#00a0ff"/></linearGradient><linearGradient id="g159" gradientUnits="userSpaceOnUse" x1="0" y1="441.2" x2="0" y2="255.3"><stop offset="0" stop-color="#0049ff"/><stop offset="0.25" stop-color="#003aff"/><stop offset="0.5" stop-color="#002cff"/><stop offset="0.75" stop-color="#0057ff"/><stop offset="1" stop-color="#0083ff"/></linearGradient><linearGradient id="g160" gradientUnits="userSpaceOnUse" x1="0" y1="441.2" x2="0" y2="255.3"><stop offset="0" stop-color="#0031ff"/><stop offset="0.25" stop-color="#0024ff"/><stop offset="0.5" stop-color="#0018ff"/><stop offset="0.75" stop-color="#003dff"/><stop offset="1" stop-color="#0061ff"/></linearGradient><linearGradient id="g161" gradientUnits="userSpaceOnUse" x1="0" y1="441.2" x2="0" y2="255.3"><stop offset="0" stop-color="#001dff"/><stop offset="0.25" stop-color="#0016ff"/><stop offset="0.5" stop-color="#000fff"/><stop offset="0.75" stop-color="#0024ff"/><stop offset="1" stop-color="#003aff"/></linearGradient><linearGradient id="g162" gradientUnits="userSpaceOnUse" x1="0" y1="441.2" x2="0" y2="255.3"><stop offset="0" stop-color="#000aff"/><stop offset="0.25" stop-color="#0007ff"/><stop offset="0.5" stop-color="#0005ff"/><stop offset="0.75" stop-color="#000cff"/><stop offset="1" stop-color="#0013ff"/></linearGradient><linearGradient id="g163" gradientUnits="userSpaceOnUse" x1="0" y1="441.2" x2="0" y2="255.3"><stop offset="0" stop-color="#00f"/><stop offset="0.25" stop-color="#0004ff"/><stop offset="0.5" stop-color="#0007ff"/><stop offset="0.75" stop-color="#000dff"/><stop offset="1" stop-color="#0012ff"/></linearGradient><linearGradient id="g164" gradientUnits="userSpaceOnUse" x1="0" y1="441.2" x2="0" y2="255.3"><stop offset="0" stop-color="#00f"/><stop offset="0.25" stop-color="#000bff"/><stop offset="0.5" stop-color="#0016ff"/><stop offset="0.75" stop-color="#0026ff"/><stop offset="1" stop-color="#0037ff"/></linearGradient><linearGradient id="g165" gradientUnits="userSpaceOnUse" x1="0" y1="441.2" x2="0" y2="255.3"><stop offset="0" stop-color="#00f"/><stop offset="0.25" stop-color="#000fff"/><stop offset="0.5" stop-color="#001dff"/><stop offset="0.75" stop-color="#03f"/><stop offset="1" stop-color="#0049ff"/></linearGradient><linearGradient id="g166" gradientUnits="userSpaceOnUse" x1="0" y1="441.2" x2="0" y2="255.3"><stop offset="0" stop-color="#00f"/><stop offset="0.25" stop-color="#000bff"/><stop offset="0.5" stop-color="#0016ff"/><stop offset="0.75" stop-color="#0026ff"/><stop offset="1" stop-color="#0037ff"/></linearGradient><linearGradient id="g167" gradientUnits="userSpaceOnUse" x1="0" y1="441.2" x2="0" y2="255.3"><stop offset="0" stop-color="#00f"/><stop offset="0.25" stop-color="#0004ff"/><stop offset="0.5" stop-color="#0007ff"/><stop offset="0.75" stop-color="#000dff"/><stop offset="1" stop-color="#0012ff"/></linearGradient><clipPath id="ce"><rect x="50" y="494.1" width="163.6" height="187.3"/></clipPath><linearGradient id="g168" gradientUnits="userSpaceOnUse" x1="0" y1="680.9" x2="0" y2="494.6"><stop offset="0" stop-color="#0007ff"/><stop offset="0.25" stop-color="#0012ff"/><stop offset="0.5" stop-color="#001dff"/><stop offset="0.75" stop-color="#002cff"/><stop offset="1" stop-color="#003aff"/></linearGradient><linearGradient id="g169" gradientUnits="userSpaceOnUse" x1="0" y1="680.9" x2="0" y2="494.6"><stop offset="0" stop-color="#000fff"/><stop offset="0.25" stop-color="#0024ff"/><stop offset="0.5" stop-color="#003aff"/><stop offset="0.75" stop-color="#0057ff"/><stop offset="1" stop-color="#0075ff"/></linearGradient><linearGradient id="g170" gradientUnits="userSpaceOnUse" x1="0" y1="680.9" x2="0" y2="494.6"><stop offset="0" stop-color="#0007ff"/><stop offset="0.25" stop-color="#0012ff"/><stop offset="0.5" stop-color="#001dff"/><stop offset="0.75" stop-color="#002cff"/><stop offset="1" stop-color="#003aff"/></linearGradient><linearGradient id="g171" gradientUnits="userSpaceOnUse" x1="0" y1="680.9" x2="0" y2="494.6"><stop offset="0" stop-color="#000fff"/><stop offset="0.25" stop-color="#001dff"/><stop offset="0.5" stop-color="#002cff"/><stop offset="0.75" stop-color="#0042ff"/><stop offset="1" stop-color="#0057ff"/></linearGradient><linearGradient id="g172" gradientUnits="userSpaceOnUse" x1="0" y1="680.9" x2="0" y2="494.6"><stop offset="0" stop-color="#001dff"/><stop offset="0.25" stop-color="#003aff"/><stop offset="0.5" stop-color="#0057ff"/><stop offset="0.75" stop-color="#0083ff"/><stop offset="1" stop-color="#00afff"/></linearGradient><linearGradient id="g173" gradientUnits="userSpaceOnUse" x1="0" y1="680.9" x2="0" y2="494.6"><stop offset="0" stop-color="#000fff"/><stop offset="0.25" stop-color="#001dff"/><stop offset="0.5" stop-color="#002cff"/><stop offset="0.75" stop-color="#0042ff"/><stop offset="1" stop-color="#0057ff"/></linearGradient><linearGradient id="g174" gradientUnits="userSpaceOnUse" x1="0" y1="680.9" x2="0" y2="494.6"><stop offset="0" stop-color="#0016ff"/><stop offset="0.25" stop-color="#0028ff"/><stop offset="0.5" stop-color="#003aff"/><stop offset="0.75" stop-color="#005fff"/><stop offset="1" stop-color="#0083ff"/></linearGradient><linearGradient id="g175" gradientUnits="userSpaceOnUse" x1="0" y1="680.9" x2="0" y2="494.6"><stop offset="0" stop-color="#002cff"/><stop offset="0.25" stop-color="#0050ff"/><stop offset="0.5" stop-color="#0075ff"/><stop offset="0.75" stop-color="#00bdff"/><stop offset="1" stop-color="#00fff8"/></linearGradient><linearGradient id="g176" gradientUnits="userSpaceOnUse" x1="0" y1="680.9" x2="0" y2="494.6"><stop offset="0" stop-color="#0016ff"/><stop offset="0.25" stop-color="#0028ff"/><stop offset="0.5" stop-color="#003aff"/><stop offset="0.75" stop-color="#005fff"/><stop offset="1" stop-color="#0083ff"/></linearGradient><linearGradient id="g177" gradientUnits="userSpaceOnUse" x1="0" y1="680.9" x2="0" y2="494.6"><stop offset="0" stop-color="#0024ff"/><stop offset="0.25" stop-color="#003eff"/><stop offset="0.5" stop-color="#0057ff"/><stop offset="0.75" stop-color="#0075ff"/><stop offset="1" stop-color="#0092ff"/></linearGradient><linearGradient id="g178" gradientUnits="userSpaceOnUse" x1="0" y1="680.9" x2="0" y2="494.6"><stop offset="0" stop-color="#0049ff"/><stop offset="0.25" stop-color="#007cff"/><stop offset="0.5" stop-color="#00afff"/><stop offset="0.75" stop-color="#00e9ff"/><stop offset="1" stop-color="#00ffdb"/></linearGradient><linearGradient id="g179" gradientUnits="userSpaceOnUse" x1="0" y1="680.9" x2="0" y2="494.6"><stop offset="0" stop-color="#0024ff"/><stop offset="0.25" stop-color="#003eff"/><stop offset="0.5" stop-color="#0057ff"/><stop offset="0.75" stop-color="#0075ff"/><stop offset="1" stop-color="#0092ff"/></linearGradient><linearGradient id="g180" gradientUnits="userSpaceOnUse" x1="0" y1="680.9" x2="0" y2="494.6"><stop offset="0" stop-color="#006dff"/><stop offset="0.25" stop-color="#0078ff"/><stop offset="0.5" stop-color="#0083ff"/><stop offset="0.75" stop-color="#00a0ff"/><stop offset="1" stop-color="#00bdff"/></linearGradient><linearGradient id="g181" gradientUnits="userSpaceOnUse" x1="0" y1="680.9" x2="0" y2="494.6"><stop offset="0" stop-color="#00dbff"/><stop offset="0.25" stop-color="#00f0ff"/><stop offset="0.5" stop-color="#00fff8"/><stop offset="0.75" stop-color="#00ffbd"/><stop offset="1" stop-color="#00ff83"/></linearGradient><linearGradient id="g182" gradientUnits="userSpaceOnUse" x1="0" y1="680.9" x2="0" y2="494.6"><stop offset="0" stop-color="#006dff"/><stop offset="0.25" stop-color="#0078ff"/><stop offset="0.5" stop-color="#0083ff"/><stop offset="0.75" stop-color="#00a0ff"/><stop offset="1" stop-color="#00bdff"/></linearGradient><linearGradient id="g183" gradientUnits="userSpaceOnUse" x1="0" y1="680.9" x2="0" y2="494.6"><stop offset="0" stop-color="#00a0ff"/><stop offset="0.25" stop-color="#00b6ff"/><stop offset="0.5" stop-color="#0cf"/><stop offset="0.75" stop-color="#00e2ff"/><stop offset="1" stop-color="#00f8ff"/></linearGradient><linearGradient id="g184" gradientUnits="userSpaceOnUse" x1="0" y1="680.9" x2="0" y2="494.6"><stop offset="0" stop-color="#00ffbd"/><stop offset="0.25" stop-color="#00ff92"/><stop offset="0.5" stop-color="#0f6"/><stop offset="0.75" stop-color="#00ff3a"/><stop offset="1" stop-color="#00ff0f"/></linearGradient><linearGradient id="g185" gradientUnits="userSpaceOnUse" x1="0" y1="680.9" x2="0" y2="494.6"><stop offset="0" stop-color="#00a0ff"/><stop offset="0.25" stop-color="#00b6ff"/><stop offset="0.5" stop-color="#0cf"/><stop offset="0.75" stop-color="#00e2ff"/><stop offset="1" stop-color="#00f8ff"/></linearGradient><linearGradient id="g186" gradientUnits="userSpaceOnUse" x1="0" y1="680.9" x2="0" y2="494.6"><stop offset="0" stop-color="#00fff8"/><stop offset="0.25" stop-color="#00ffe2"/><stop offset="0.5" stop-color="#0fc"/><stop offset="0.75" stop-color="#00ffc5"/><stop offset="1" stop-color="#00ffbd"/></linearGradient><linearGradient id="g187" gradientUnits="userSpaceOnUse" x1="0" y1="680.9" x2="0" y2="494.6"><stop offset="0" stop-color="#0fff00"/><stop offset="0.25" stop-color="#3aff00"/><stop offset="0.5" stop-color="#6f0"/><stop offset="0.75" stop-color="#7cff00"/><stop offset="1" stop-color="#92ff00"/></linearGradient><linearGradient id="g188" gradientUnits="userSpaceOnUse" x1="0" y1="680.9" x2="0" y2="494.6"><stop offset="0" stop-color="#0fff00"/><stop offset="0.25" stop-color="#3aff00"/><stop offset="0.5" stop-color="#6f0"/><stop offset="0.75" stop-color="#8aff00"/><stop offset="1" stop-color="#afff00"/></linearGradient><linearGradient id="g189" gradientUnits="userSpaceOnUse" x1="0" y1="680.9" x2="0" y2="494.6"><stop offset="0" stop-color="#00ffd3"/><stop offset="0.25" stop-color="#00ffc8"/><stop offset="0.5" stop-color="#00ffbd"/><stop offset="0.75" stop-color="#00ff54"/><stop offset="1" stop-color="#16ff00"/></linearGradient><linearGradient id="g190" gradientUnits="userSpaceOnUse" x1="0" y1="680.9" x2="0" y2="494.6"><stop offset="0" stop-color="#0049ff"/><stop offset="0.25" stop-color="#03f"/><stop offset="0.5" stop-color="#001dff"/><stop offset="0.75" stop-color="#00c5ff"/><stop offset="1" stop-color="#00ff92"/></linearGradient><linearGradient id="g191" gradientUnits="userSpaceOnUse" x1="0" y1="680.9" x2="0" y2="494.6"><stop offset="0" stop-color="#00ffb6"/><stop offset="0.25" stop-color="#00ffd7"/><stop offset="0.5" stop-color="#00fff8"/><stop offset="0.75" stop-color="#00ff7c"/><stop offset="1" stop-color="#0f0"/></linearGradient><linearGradient id="g192" gradientUnits="userSpaceOnUse" x1="0" y1="680.9" x2="0" y2="494.6"><stop offset="0" stop-color="#dbff00"/><stop offset="0.25" stop-color="#c5ff00"/><stop offset="0.5" stop-color="#afff00"/><stop offset="0.75" stop-color="#d7ff00"/><stop offset="1" stop-color="#ff0"/></linearGradient><linearGradient id="g193" gradientUnits="userSpaceOnUse" x1="0" y1="680.9" x2="0" y2="494.6"><stop offset="0" stop-color="#00ffdb"/><stop offset="0.25" stop-color="#00ffe9"/><stop offset="0.5" stop-color="#00fff8"/><stop offset="0.75" stop-color="#00fff8"/><stop offset="1" stop-color="#00fff8"/></linearGradient><linearGradient id="g194" gradientUnits="userSpaceOnUse" x1="0" y1="680.9" x2="0" y2="494.6"><stop offset="0" stop-color="#45ff00"/><stop offset="0.25" stop-color="#35ff00"/><stop offset="0.5" stop-color="#24ff00"/><stop offset="0.75" stop-color="#3aff00"/><stop offset="1" stop-color="#50ff00"/></linearGradient><linearGradient id="g195" gradientUnits="userSpaceOnUse" x1="0" y1="680.9" x2="0" y2="494.6"><stop offset="0" stop-color="#3eff00"/><stop offset="0.25" stop-color="#47ff00"/><stop offset="0.5" stop-color="#50ff00"/><stop offset="0.75" stop-color="#92ff00"/><stop offset="1" stop-color="#d3ff00"/></linearGradient><linearGradient id="g196" gradientUnits="userSpaceOnUse" x1="0" y1="680.9" x2="0" y2="494.6"><stop offset="0" stop-color="#2fff00"/><stop offset="0.25" stop-color="#4bff00"/><stop offset="0.5" stop-color="#6f0"/><stop offset="0.75" stop-color="#bdff00"/><stop offset="1" stop-color="#ffe900"/></linearGradient><linearGradient id="g197" gradientUnits="userSpaceOnUse" x1="0" y1="680.9" x2="0" y2="494.6"><stop offset="0" stop-color="#1aff00"/><stop offset="0.25" stop-color="#40ff00"/><stop offset="0.5" stop-color="#6f0"/><stop offset="0.75" stop-color="#bdff00"/><stop offset="1" stop-color="#ffe900"/></linearGradient><linearGradient id="g198" gradientUnits="userSpaceOnUse" x1="0" y1="680.9" x2="0" y2="494.6"><stop offset="0" stop-color="#0aff00"/><stop offset="0.25" stop-color="#2eff00"/><stop offset="0.5" stop-color="#53ff00"/><stop offset="0.75" stop-color="#9bff00"/><stop offset="1" stop-color="#e4ff00"/></linearGradient><linearGradient id="g199" gradientUnits="userSpaceOnUse" x1="0" y1="680.9" x2="0" y2="494.6"><stop offset="0" stop-color="#0f0"/><stop offset="0.25" stop-color="#16ff00"/><stop offset="0.5" stop-color="#2cff00"/><stop offset="0.75" stop-color="#57ff00"/><stop offset="1" stop-color="#83ff00"/></linearGradient><linearGradient id="g200" gradientUnits="userSpaceOnUse" x1="0" y1="680.9" x2="0" y2="494.6"><stop offset="0" stop-color="#00ff0a"/><stop offset="0.25" stop-color="#00ff02"/><stop offset="0.5" stop-color="#05ff00"/><stop offset="0.75" stop-color="#13ff00"/><stop offset="1" stop-color="#2f0"/></linearGradient><linearGradient id="g201" gradientUnits="userSpaceOnUse" x1="0" y1="680.9" x2="0" y2="494.6"><stop offset="0" stop-color="#0049ff"/><stop offset="0.25" stop-color="#0054ff"/><stop offset="0.5" stop-color="#005fff"/><stop offset="0.75" stop-color="#006aff"/><stop offset="1" stop-color="#0075ff"/></linearGradient><linearGradient id="g202" gradientUnits="userSpaceOnUse" x1="0" y1="680.9" x2="0" y2="494.6"><stop offset="0" stop-color="#00dbff"/><stop offset="0.25" stop-color="#00fbff"/><stop offset="0.5" stop-color="#00ffe2"/><stop offset="0.75" stop-color="#00ffc1"/><stop offset="1" stop-color="#00ffa0"/></linearGradient><linearGradient id="g203" gradientUnits="userSpaceOnUse" x1="0" y1="680.9" x2="0" y2="494.6"><stop offset="0" stop-color="#00ffdb"/><stop offset="0.25" stop-color="#00ffaf"/><stop offset="0.5" stop-color="#00ff83"/><stop offset="0.75" stop-color="#00ff57"/><stop offset="1" stop-color="#00ff2c"/></linearGradient><linearGradient id="g204" gradientUnits="userSpaceOnUse" x1="0" y1="680.9" x2="0" y2="494.6"><stop offset="0" stop-color="#00dbff"/><stop offset="0.25" stop-color="#00fbff"/><stop offset="0.5" stop-color="#00ffe2"/><stop offset="0.75" stop-color="#00ffc1"/><stop offset="1" stop-color="#00ffa0"/></linearGradient><linearGradient id="g205" gradientUnits="userSpaceOnUse" x1="0" y1="680.9" x2="0" y2="494.6"><stop offset="0" stop-color="#0049ff"/><stop offset="0.25" stop-color="#0054ff"/><stop offset="0.5" stop-color="#005fff"/><stop offset="0.75" stop-color="#006aff"/><stop offset="1" stop-color="#0075ff"/></linearGradient><linearGradient id="g206" gradientUnits="userSpaceOnUse" x1="0" y1="680.9" x2="0" y2="494.6"><stop offset="0" stop-color="#006dff"/><stop offset="0.25" stop-color="#0080ff"/><stop offset="0.5" stop-color="#0092ff"/><stop offset="0.75" stop-color="#09f"/><stop offset="1" stop-color="#00a0ff"/></linearGradient><linearGradient id="g207" gradientUnits="userSpaceOnUse" x1="0" y1="680.9" x2="0" y2="494.6"><stop offset="0" stop-color="#00dbff"/><stop offset="0.25" stop-color="#0ff"/><stop offset="0.5" stop-color="#00ffdb"/><stop offset="0.75" stop-color="#0fc"/><stop offset="1" stop-color="#00ffbd"/></linearGradient><linearGradient id="g208" gradientUnits="userSpaceOnUse" x1="0" y1="680.9" x2="0" y2="494.6"><stop offset="0" stop-color="#006dff"/><stop offset="0.25" stop-color="#0080ff"/><stop offset="0.5" stop-color="#0092ff"/><stop offset="0.75" stop-color="#09f"/><stop offset="1" stop-color="#00a0ff"/></linearGradient><clipPath id="cf"><rect x="285.2" y="494.1" width="162.9" height="187.3"/></clipPath><linearGradient id="g209" gradientUnits="userSpaceOnUse" x1="0" y1="680.9" x2="0" y2="494.6"><stop offset="0" stop-color="#00ff92"/><stop offset="0.25" stop-color="#00ff7c"/><stop offset="0.5" stop-color="#0f6"/><stop offset="0.75" stop-color="#0f6"/><stop offset="1" stop-color="#0f6"/></linearGradient><linearGradient id="g210" gradientUnits="userSpaceOnUse" x1="0" y1="680.9" x2="0" y2="494.6"><stop offset="0" stop-color="#00ff9e"/><stop offset="0.25" stop-color="#00ff85"/><stop offset="0.5" stop-color="#00ff6b"/><stop offset="0.75" stop-color="#00ff6b"/><stop offset="1" stop-color="#00ff6b"/></linearGradient><linearGradient id="g211" gradientUnits="userSpaceOnUse" x1="0" y1="680.9" x2="0" y2="494.6"><stop offset="0" stop-color="#00ffb8"/><stop offset="0.25" stop-color="#00ff97"/><stop offset="0.5" stop-color="#00ff76"/><stop offset="0.75" stop-color="#00ff76"/><stop offset="1" stop-color="#00ff76"/></linearGradient><linearGradient id="g212" gradientUnits="userSpaceOnUse" x1="0" y1="680.9" x2="0" y2="494.6"><stop offset="0" stop-color="#00ffd1"/><stop offset="0.25" stop-color="#00ffa9"/><stop offset="0.5" stop-color="#00ff81"/><stop offset="0.75" stop-color="#00ff81"/><stop offset="1" stop-color="#00ff81"/></linearGradient><linearGradient id="g213" gradientUnits="userSpaceOnUse" x1="0" y1="680.9" x2="0" y2="494.6"><stop offset="0" stop-color="#00ffeb"/><stop offset="0.25" stop-color="#00ffbc"/><stop offset="0.5" stop-color="#00ff8c"/><stop offset="0.75" stop-color="#00ff8c"/><stop offset="1" stop-color="#00ff8c"/></linearGradient><linearGradient id="g214" gradientUnits="userSpaceOnUse" x1="0" y1="680.9" x2="0" y2="494.6"><stop offset="0" stop-color="#0083ff"/><stop offset="0.25" stop-color="#009dff"/><stop offset="0.5" stop-color="#00b6ff"/><stop offset="0.75" stop-color="#00b6ff"/><stop offset="1" stop-color="#00b6ff"/></linearGradient><linearGradient id="g215" gradientUnits="userSpaceOnUse" x1="0" y1="680.9" x2="0" y2="494.6"><stop offset="0" stop-color="#0092ff"/><stop offset="0.25" stop-color="#00a8ff"/><stop offset="0.5" stop-color="#00bdff"/><stop offset="0.75" stop-color="#0cf"/><stop offset="1" stop-color="#00dbff"/></linearGradient><linearGradient id="g216" gradientUnits="userSpaceOnUse" x1="0" y1="680.9" x2="0" y2="494.6"><stop offset="0" stop-color="#00ffdb"/><stop offset="0.25" stop-color="#00ffab"/><stop offset="0.5" stop-color="#00ff7c"/><stop offset="0.75" stop-color="#00ff5b"/><stop offset="1" stop-color="#00ff3a"/></linearGradient><linearGradient id="g217" gradientUnits="userSpaceOnUse" x1="0" y1="680.9" x2="0" y2="494.6"><stop offset="0" stop-color="#00ffdb"/><stop offset="0.25" stop-color="#00ffa4"/><stop offset="0.5" stop-color="#00ff6d"/><stop offset="0.75" stop-color="#00ff45"/><stop offset="1" stop-color="#00ff1d"/></linearGradient><linearGradient id="g218" gradientUnits="userSpaceOnUse" x1="0" y1="680.9" x2="0" y2="494.6"><stop offset="0" stop-color="#00a0ff"/><stop offset="0.25" stop-color="#00dbff"/><stop offset="0.5" stop-color="#00ffe9"/><stop offset="0.75" stop-color="#00ff8a"/><stop offset="1" stop-color="#00ff2c"/></linearGradient><linearGradient id="g219" gradientUnits="userSpaceOnUse" x1="0" y1="680.9" x2="0" y2="494.6"><stop offset="0" stop-color="#001dff"/><stop offset="0.25" stop-color="#0057ff"/><stop offset="0.5" stop-color="#0092ff"/><stop offset="0.75" stop-color="#00ffdb"/><stop offset="1" stop-color="#00ff49"/></linearGradient><linearGradient id="g220" gradientUnits="userSpaceOnUse" x1="0" y1="680.9" x2="0" y2="494.6"><stop offset="0" stop-color="#00ffa0"/><stop offset="0.25" stop-color="#0f9"/><stop offset="0.5" stop-color="#00ff92"/><stop offset="0.75" stop-color="#00ff24"/><stop offset="1" stop-color="#49ff00"/></linearGradient><linearGradient id="g221" gradientUnits="userSpaceOnUse" x1="0" y1="680.9" x2="0" y2="494.6"><stop offset="0" stop-color="#cf0"/><stop offset="0.25" stop-color="#b6ff00"/><stop offset="0.5" stop-color="#a0ff00"/><stop offset="0.75" stop-color="#c5ff00"/><stop offset="1" stop-color="#e9ff00"/></linearGradient><linearGradient id="g222" gradientUnits="userSpaceOnUse" x1="0" y1="680.9" x2="0" y2="494.6"><stop offset="0" stop-color="#cf0"/><stop offset="0.25" stop-color="#cf0"/><stop offset="0.5" stop-color="#cf0"/><stop offset="0.75" stop-color="#dbff00"/><stop offset="1" stop-color="#e9ff00"/></linearGradient><linearGradient id="g223" gradientUnits="userSpaceOnUse" x1="0" y1="680.9" x2="0" y2="494.6"><stop offset="0" stop-color="#afff00"/><stop offset="0.25" stop-color="#afff00"/><stop offset="0.5" stop-color="#afff00"/><stop offset="0.75" stop-color="#c7ff00"/><stop offset="1" stop-color="#dfff00"/></linearGradient><linearGradient id="g224" gradientUnits="userSpaceOnUse" x1="0" y1="680.9" x2="0" y2="494.6"><stop offset="0" stop-color="#8dff00"/><stop offset="0.25" stop-color="#8dff00"/><stop offset="0.5" stop-color="#8dff00"/><stop offset="0.75" stop-color="#af0"/><stop offset="1" stop-color="#c7ff00"/></linearGradient><linearGradient id="g225" gradientUnits="userSpaceOnUse" x1="0" y1="680.9" x2="0" y2="494.6"><stop offset="0" stop-color="#6f0"/><stop offset="0.25" stop-color="#6f0"/><stop offset="0.5" stop-color="#6f0"/><stop offset="0.75" stop-color="#83ff00"/><stop offset="1" stop-color="#a0ff00"/></linearGradient><linearGradient id="g226" gradientUnits="userSpaceOnUse" x1="0" y1="680.9" x2="0" y2="494.6"><stop offset="0" stop-color="#3fff00"/><stop offset="0.25" stop-color="#3fff00"/><stop offset="0.5" stop-color="#3fff00"/><stop offset="0.75" stop-color="#5cff00"/><stop offset="1" stop-color="#79ff00"/></linearGradient><linearGradient id="g227" gradientUnits="userSpaceOnUse" x1="0" y1="680.9" x2="0" y2="494.6"><stop offset="0" stop-color="#24ff00"/><stop offset="0.25" stop-color="#23ff00"/><stop offset="0.5" stop-color="#21ff00"/><stop offset="0.75" stop-color="#3cff00"/><stop offset="1" stop-color="#57ff00"/></linearGradient><linearGradient id="g228" gradientUnits="userSpaceOnUse" x1="0" y1="680.9" x2="0" y2="494.6"><stop offset="0" stop-color="#16ff00"/><stop offset="0.25" stop-color="#10ff00"/><stop offset="0.5" stop-color="#0bff00"/><stop offset="0.75" stop-color="#23ff00"/><stop offset="1" stop-color="#3aff00"/></linearGradient><linearGradient id="g229" gradientUnits="userSpaceOnUse" x1="0" y1="680.9" x2="0" y2="494.6"><stop offset="0" stop-color="#07ff00"/><stop offset="0.25" stop-color="#00ff02"/><stop offset="0.5" stop-color="#00ff0b"/><stop offset="0.75" stop-color="#09ff00"/><stop offset="1" stop-color="#1dff00"/></linearGradient><linearGradient id="g230" gradientUnits="userSpaceOnUse" x1="0" y1="680.9" x2="0" y2="494.6"><stop offset="0" stop-color="#00ff07"/><stop offset="0.25" stop-color="#00ff14"/><stop offset="0.5" stop-color="#00ff21"/><stop offset="0.75" stop-color="#00ff10"/><stop offset="1" stop-color="#0f0"/></linearGradient><linearGradient id="g231" gradientUnits="userSpaceOnUse" x1="0" y1="680.9" x2="0" y2="494.6"><stop offset="0" stop-color="#00ff23"/><stop offset="0.25" stop-color="#00ff30"/><stop offset="0.5" stop-color="#00ff3d"/><stop offset="0.75" stop-color="#00ff30"/><stop offset="1" stop-color="#00ff23"/></linearGradient><linearGradient id="g232" gradientUnits="userSpaceOnUse" x1="0" y1="680.9" x2="0" y2="494.6"><stop offset="0" stop-color="#00ff4c"/><stop offset="0.25" stop-color="#00ff56"/><stop offset="0.5" stop-color="#00ff60"/><stop offset="0.75" stop-color="#00ff56"/><stop offset="1" stop-color="#00ff4c"/></linearGradient><linearGradient id="g233" gradientUnits="userSpaceOnUse" x1="0" y1="680.9" x2="0" y2="494.6"><stop offset="0" stop-color="#00ff75"/><stop offset="0.25" stop-color="#00ff7c"/><stop offset="0.5" stop-color="#00ff83"/><stop offset="0.75" stop-color="#00ff7c"/><stop offset="1" stop-color="#00ff75"/></linearGradient><linearGradient id="g234" gradientUnits="userSpaceOnUse" x1="0" y1="200" x2="0" y2="28.5"><stop offset="0.000" stop-color="#00f"/><stop offset="0.250" stop-color="#0ff"/><stop offset="0.500" stop-color="#0f0"/><stop offset="0.750" stop-color="#ff0"/><stop offset="1.000" stop-color="#f00"/></linearGradient><linearGradient id="g235" gradientUnits="userSpaceOnUse" x1="0" y1="441.7" x2="0" y2="269.6"><stop offset="0.000" stop-color="#00f"/><stop offset="0.250" stop-color="#0ff"/><stop offset="0.500" stop-color="#0f0"/><stop offset="0.750" stop-color="#ff0"/><stop offset="1.000" stop-color="#f00"/></linearGradient><linearGradient id="g236" gradientUnits="userSpaceOnUse" x1="0" y1="681.3" x2="0" y2="509.0"><stop offset="0.000" stop-color="#00f"/><stop offset="0.250" stop-color="#0ff"/><stop offset="0.500" stop-color="#0f0"/><stop offset="0.750" stop-color="#ff0"/><stop offset="1.000" stop-color="#f00"/></linearGradient><linearGradient id="g237" gradientUnits="userSpaceOnUse" x1="0" y1="763" x2="0" y2="908.4"><stop offset="0" stop-color="#fdee14"/><stop offset=".2" stop-color="#fef256"/><stop offset=".45" stop-color="#fff89c"/><stop offset=".68" stop-color="#fffcdc"/><stop offset="1" stop-color="#fffffb"/></linearGradient><clipPath id="ch"><rect x="286.2" y="733.2" width="222.3" height="174.19999999999993"/></clipPath>
</defs>
<rect width="520" height="949" fill="#fff"/>
<g clip-path="url(#ca)"><rect x="48.5" y="11.8" width="166.6" height="190.2" fill="#00f"/><g filter="url(#bl)">
<path d="M20,203L20,200C16.7,137.9 13.3,75.9 10,13.8V10.8H217.1V203Z" fill="#00f"/>
<path d="M66.9,203L66.9,200C66.3,137.9 58.2,75.9 46.3,13.8V10.8H217.1V203Z" fill="#0005ff"/>
<path d="M67.8,203L67.8,200C67.2,137.9 59.1,75.9 47.2,13.8V10.8H217.1V203Z" fill="url(#g1)"/>
<path d="M69.4,203L69.4,200C68.8,137.9 60.7,75.9 48.8,13.8V10.8H217.1V203Z" fill="#0005ff"/>
<path d="M70.3,203L70.3,200C69.7,137.9 61.6,75.9 49.7,13.8V10.8H217.1V203Z" fill="#00f"/>
<path d="M74.1,203L74.1,200C73.3,137.9 65,75.9 53.6,13.8V10.8H217.1V203Z" fill="url(#g2)"/>
<path d="M75,203L75,200C74.2,137.9 65.9,75.9 54.5,13.8V10.8H217.1V203Z" fill="url(#g3)"/>
<path d="M76.6,203L76.6,200C75.8,137.9 67.5,75.9 56.1,13.8V10.8H217.1V203Z" fill="url(#g4)"/>
<path d="M77.5,203L77.5,200C76.7,137.9 68.4,75.9 57,13.8V10.8H217.1V203Z" fill="#00f"/>
<path d="M81.3,203L81.3,200C80.3,137.9 72.9,75.9 63.3,13.8V10.8H217.1V203Z" fill="url(#g5)"/>
<path d="M82.2,203L82.2,200C81.2,137.9 73.8,75.9 64.2,13.8V10.8H217.1V203Z" fill="url(#g6)"/>
<path d="M83.8,203L83.8,200C82.8,137.9 75.4,75.9 65.8,13.8V10.8H217.1V203Z" fill="url(#g7)"/>
<path d="M84.7,203L84.7,200C83.7,137.9 76.3,75.9 66.7,13.8V10.8H217.1V203Z" fill="#00f"/>
<path d="M88.8,203L88.8,200C87.2,137.9 80.7,75.9 73.6,13.8V10.8H217.1V203Z" fill="url(#g8)"/>
<path d="M89.7,203L89.7,200C88.1,137.9 81.6,75.9 74.5,13.8V10.8H217.1V203Z" fill="url(#g9)"/>
<path d="M91.3,203L91.3,200C89.8,137.9 83.5,75.9 76.5,13.8V10.8H217.1V203Z" fill="url(#g10)"/>
<path d="M92.2,203L92.2,200C90.7,137.9 84.4,75.9 77.4,13.8V10.8H217.1V203Z" fill="#00f"/>
<path d="M96.6,203L96.6,200C94.7,137.9 87.3,75.9 79.4,13.8V10.8H217.1V203Z" fill="url(#g11)"/>
<path d="M97.5,203L97.5,200C95.6,137.9 88.2,75.9 80.3,13.8V10.8H217.1V203Z" fill="url(#g12)"/>
<path d="M100.1,203L100.1,200C98.4,137.9 91.1,75.9 82.9,13.8V10.8H217.1V203Z" fill="url(#g13)"/>
<path d="M101,203L101,200C99.3,137.9 92,75.9 83.8,13.8V10.8H217.1V203Z" fill="#00f"/>
<path d="M103.5,203L103.5,200C103,137.9 95.7,75.9 84.6,13.8V10.8H217.1V203Z" fill="url(#g14)"/>
<path d="M104.4,203L104.4,200C103.9,137.9 96.6,75.9 85.4,13.8V10.8H217.1V203Z" fill="url(#g15)"/>
<path d="M106,203L106,200C105.1,137.9 97.4,75.9 87,13.8V10.8H217.1V203Z" fill="url(#g16)"/>
<path d="M107.6,203L107.6,200C106.3,137.9 98.3,75.9 88.6,13.8V10.8H217.1V203Z" fill="url(#g17)"/>
<path d="M108.2,203L108.2,200C106.7,137.9 98.9,75.9 89.6,13.8V10.8H217.1V203Z" fill="url(#g18)"/>
<path d="M108.5,203L108.5,200C107,137.9 99.5,75.9 90.7,13.8V10.8H217.1V203Z" fill="url(#g19)"/>
<path d="M108.7,203L108.7,200C107.2,137.9 100,75.9 91.9,13.8V10.8H217.1V203Z" fill="url(#g20)"/>
<path d="M109,203L109,200C107.4,137.9 100.6,75.9 93,13.8V10.8H217.1V203Z" fill="url(#g21)"/>
<path d="M109.6,203L109.6,200C108.4,137.9 101.8,75.9 93.8,13.8V10.8H217.1V203Z" fill="url(#g22)"/>
<path d="M110.2,203L110.2,200C109.1,137.9 102.7,75.9 94.7,13.8V10.8H217.1V203Z" fill="#ff4900"/>
<path d="M110.9,203L110.9,200C109.9,137.9 103.5,75.9 95.5,13.8V10.8H217.1V203Z" fill="#f00"/>
<path d="M185.8,203L185.8,200C185.1,137.9 170.9,75.9 148.2,13.8V10.8H217.1V203Z" fill="#ff4900"/>
<path d="M186.6,203L186.6,200C186,137.9 172,75.9 149.2,13.8V10.8H217.1V203Z" fill="url(#g23)"/>
<path d="M186.9,203L186.9,200C186.5,137.9 172.9,75.9 149.9,13.8V10.8H217.1V203Z" fill="url(#g24)"/>
<path d="M187.3,203L187.3,200C186.9,137.9 173.8,75.9 150.6,13.8V10.8H217.1V203Z" fill="url(#g25)"/>
<path d="M187.3,203L187.3,200C186.9,137.9 173.9,75.9 151.8,13.8V10.8H217.1V203Z" fill="url(#g26)"/>
<path d="M187.4,203L187.4,200C186.8,137.9 174,75.9 153,13.8V10.8H217.1V203Z" fill="url(#g27)"/>
<path d="M187.4,203L187.4,200C186.7,137.9 174.2,75.9 154.2,13.8V10.8H217.1V203Z" fill="url(#g28)"/>
<path d="M187.4,203L187.4,200C186.7,137.9 174.5,75.9 155.3,13.8V10.8H217.1V203Z" fill="url(#g29)"/>
<path d="M187.5,203L187.5,200C186.8,137.9 174.9,75.9 156.5,13.8V10.8H217.1V203Z" fill="url(#g30)"/>
<path d="M187.5,203L187.5,200C186.9,137.9 175.9,75.9 158.5,13.8V10.8H217.1V203Z" fill="url(#g31)"/>
<path d="M187.6,203L187.6,200C187,137.9 176.8,75.9 160.5,13.8V10.8H217.1V203Z" fill="url(#g32)"/>
<path d="M187.6,203L187.6,200C187.2,137.9 177.8,75.9 162.5,13.8V10.8H217.1V203Z" fill="url(#g33)"/>
<path d="M187.6,203L187.6,200C187.2,137.9 178.2,75.9 163.5,13.8V10.8H217.1V203Z" fill="url(#g34)"/>
<path d="M187.7,203L187.7,200C187.3,137.9 178.6,75.9 164.5,13.8V10.8H217.1V203Z" fill="url(#g35)"/>
<path d="M187.7,203L187.7,200C187.1,137.9 178.7,75.9 165.8,13.8V10.8H217.1V203Z" fill="url(#g36)"/>
<path d="M187.8,203L187.8,200C187,137.9 178.8,75.9 167,13.8V10.8H217.1V203Z" fill="url(#g37)"/>
<path d="M187.8,203L187.8,200C186.9,137.9 179,75.9 168.1,13.8V10.8H217.1V203Z" fill="url(#g38)"/>
<path d="M187.8,203L187.8,200C186.8,137.9 179.1,75.9 169.2,13.8V10.8H217.1V203Z" fill="url(#g39)"/>
<path d="M187.9,203L187.9,200C187.1,137.9 179.8,75.9 170,13.8V10.8H217.1V203Z" fill="url(#g40)"/>
<path d="M189.9,203L189.9,200C188.4,137.9 180.6,75.9 171.5,13.8V10.8H217.1V203Z" fill="url(#g41)"/>
<path d="M190.6,203L190.6,200C189.2,137.9 181.4,75.9 172.3,13.8V10.8H217.1V203Z" fill="url(#g42)"/>
<path d="M194,203L194,200C191.7,137.9 183.1,75.9 174,13.8V10.8H217.1V203Z" fill="url(#g43)"/>
<path d="M196.4,203L196.4,200C192.8,137.9 184.2,75.9 175.8,13.8V10.8H217.1V203Z" fill="url(#g44)"/>
<path d="M198.8,203L198.8,200C193.7,137.9 185.5,75.9 177.7,13.8V10.8H217.1V203Z" fill="url(#g45)"/>
<path d="M199.3,203L199.3,200C194.4,137.9 186.2,75.9 178.4,13.8V10.8H217.1V203Z" fill="url(#g46)"/>
<path d="M199.8,203L199.8,200C195.1,137.9 187,75.9 179.2,13.8V10.8H217.1V203Z" fill="#00f"/>
<path d="M206,203L206,200C202.4,137.9 193.4,75.9 184.6,13.8V10.8H217.1V203Z" fill="url(#g47)"/>
<path d="M206.4,203L206.4,200C202.8,137.9 194,75.9 185.3,13.8V10.8H217.1V203Z" fill="url(#g48)"/>
<path d="M206.9,203L206.9,200C203.2,137.9 194.5,75.9 186,13.8V10.8H217.1V203Z" fill="url(#g49)"/>
<path d="M211.8,203L211.8,200C209.9,137.9 201.9,75.9 193,13.8V10.8H217.1V203Z" fill="url(#g50)"/>
<path d="M212.8,203L212.8,200C210.9,137.9 202.9,75.9 194.2,13.8V10.8H217.1V203Z" fill="#00f"/>
<path d="M221,203L221,200C219.7,137.9 210.9,75.9 199.5,13.8V10.8H217.1V203Z" fill="url(#g51)"/>
<path d="M222,203L222,200C220.7,137.9 211.9,75.9 200.5,13.8V10.8H217.1V203Z" fill="url(#g52)"/>
<path d="M227,203L227,200C225.7,137.9 216.9,75.9 205.5,13.8V10.8H217.1V203Z" fill="url(#g53)"/>
<path d="M228,203L228,200C226.7,137.9 217.9,75.9 206.5,13.8V10.8H217.1V203Z" fill="#00f"/>
</g>
<path d="M110.2,200C109.1,137.9 102.7,75.9 94.7,13.8" fill="none" stroke="#fff" stroke-width="1.2" stroke-dasharray="4 2.2"/>
<path d="M186.6,200C186,137.9 172,75.9 149.2,13.8" fill="none" stroke="#fff" stroke-width="1.2" stroke-dasharray="4 2.2"/>
</g>
<rect x="50.5" y="13.8" width="162.6" height="186.2" fill="none" stroke="#000" stroke-width="1" stroke-opacity=".8"/>
<text x="70.8" y="212.7" class="t" text-anchor="middle">400</text>
<text x="111.5" y="212.7" class="t" text-anchor="middle">500</text>
<text x="152.1" y="212.7" class="t" text-anchor="middle">600</text>
<text x="192.8" y="212.7" class="t" text-anchor="middle">700</text>
<text x="47.7" y="204.1" class="t" text-anchor="end">0</text>
<text x="47.7" y="166.9" class="t" text-anchor="end">10</text>
<path d="M50.5,162.8h2.3" stroke="#000" stroke-width="0.9" stroke-opacity=".55"/>
<text x="47.7" y="129.6" class="t" text-anchor="end">20</text>
<path d="M50.5,125.5h2.3" stroke="#000" stroke-width="0.9" stroke-opacity=".55"/>
<text x="47.7" y="92.4" class="t" text-anchor="end">30</text>
<path d="M50.5,88.3h2.3" stroke="#000" stroke-width="0.9" stroke-opacity=".55"/>
<text x="47.7" y="55.1" class="t" text-anchor="end">40</text>
<path d="M50.5,51h2.3" stroke="#000" stroke-width="0.9" stroke-opacity=".55"/>
<text x="47.7" y="17.9" class="t" text-anchor="end">50</text>
<text x="132.6"  y="233.5" class="ax" text-anchor="middle">Wavelength (nm)</text>
<text transform="translate(25.8,101.4) rotate(-90) scale(1,1.1)" class="ax" text-anchor="middle">Incident angle (degree)</text>
<text x="2.6" y="16.4" class="pl">(a)</text>
<text x="164.6"  y="82.7" class="l90" text-anchor="middle">90%</text>
<g clip-path="url(#cb)"><rect x="283.7" y="11.8" width="165.90000000000003" height="190.2" fill="#00f"/><g filter="url(#bl)">
<path d="M250,203L250,200C246.7,137.9 243.3,75.9 240,13.8V10.8H451.6V203Z" fill="url(#g54)"/>
<path d="M269.8,203L269.8,200C267.9,137.9 262.1,75.9 256,13.8V10.8H451.6V203Z" fill="url(#g55)"/>
<path d="M289.6,203L289.6,200C288.6,137.9 281.4,75.9 272,13.8V10.8H451.6V203Z" fill="url(#g56)"/>
<path d="M290.7,203L290.7,200C290.1,137.9 283.2,75.9 273.1,13.8V10.8H451.6V203Z" fill="url(#g57)"/>
<path d="M291.8,203L291.8,200C291.6,137.9 285.1,75.9 274.2,13.8V10.8H451.6V203Z" fill="url(#g58)"/>
<path d="M292.9,203L292.9,200C292.9,137.9 287.1,75.9 275.4,13.8V10.8H451.6V203Z" fill="url(#g59)"/>
<path d="M294,203L294,200C294.2,137.9 289.2,75.9 276.5,13.8V10.8H451.6V203Z" fill="url(#g60)"/>
<path d="M294.5,203L294.5,200C294.7,137.9 290,75.9 277.5,13.8V10.8H451.6V203Z" fill="#00f"/>
<path d="M297.8,203L297.8,200C297.9,137.9 292.2,75.9 280,13.8V10.8H451.6V203Z" fill="url(#g61)"/>
<path d="M298.1,203L298.1,200C298.2,137.9 292.6,75.9 280.8,13.8V10.8H451.6V203Z" fill="url(#g62)"/>
<path d="M298.4,203L298.4,200C298.5,137.9 293,75.9 281.5,13.8V10.8H451.6V203Z" fill="url(#g63)"/>
<path d="M301.5,203L301.5,200C299.9,137.9 294.1,75.9 288,13.8V10.8H451.6V203Z" fill="url(#g64)"/>
<path d="M302.1,203L302.1,200C300.3,137.9 294.6,75.9 288.6,13.8V10.8H451.6V203Z" fill="url(#g65)"/>
<path d="M303.6,203L303.6,200C301.3,137.9 295.3,75.9 289.4,13.8V10.8H451.6V203Z" fill="url(#g66)"/>
<path d="M304,203L304,200C301.7,137.9 295.8,75.9 290,13.8V10.8H451.6V203Z" fill="url(#g67)"/>
<path d="M304.2,203L304.2,200C302.7,137.9 296.8,75.9 290.4,13.8V10.8H451.6V203Z" fill="url(#g68)"/>
<path d="M304.4,203L304.4,200C303.5,137.9 297.9,75.9 290.8,13.8V10.8H451.6V203Z" fill="#fc0"/>
<path d="M304.8,203L304.8,200C304.5,137.9 299.6,75.9 291.7,13.8V10.8H451.6V203Z" fill="#ff5300"/>
<path d="M305.6,203L305.6,200C305.5,137.9 300.8,75.9 292.6,13.8V10.8H451.6V203Z" fill="#ff1400"/>
<path d="M347,203L347,200C344.9,137.9 338.3,75.9 331.5,13.8V10.8H451.6V203Z" fill="#ff1a00"/>
<path d="M349.5,203L349.5,200C347.4,137.9 340.8,75.9 334,13.8V10.8H451.6V203Z" fill="url(#g69)"/>
<path d="M352.5,203L352.5,200C350,137.9 343.9,75.9 338,13.8V10.8H451.6V203Z" fill="#ff1a00"/>
<path d="M355,203L355,200C352.5,137.9 346.4,75.9 340.5,13.8V10.8H451.6V203Z" fill="#ff1400"/>
<path d="M379,203L379,200C375.3,137.9 369.3,75.9 363.5,13.8V10.8H451.6V203Z" fill="#ff1500"/>
<path d="M381.5,203L381.5,200C377.8,137.9 371.8,75.9 366,13.8V10.8H451.6V203Z" fill="#ff1600"/>
<path d="M384.5,203L384.5,200C380.2,137.9 375,75.9 370,13.8V10.8H451.6V203Z" fill="#ff1500"/>
<path d="M387,203L387,200C382.7,137.9 377.5,75.9 372.5,13.8V10.8H451.6V203Z" fill="#ff1400"/>
<path d="M429.5,203L429.5,200C429.1,137.9 415.1,75.9 390,13.8V10.8H451.6V203Z" fill="#ff2100"/>
<path d="M430.8,203L430.8,200C430.5,137.9 416.8,75.9 391.5,13.8V10.8H451.6V203Z" fill="#ff3a00"/>
<path d="M432,203L432,200C431.9,137.9 418.5,75.9 393.1,13.8V10.8H451.6V203Z" fill="#ff5300"/>
<path d="M433.3,203L433.3,200C433.3,137.9 420.3,75.9 394.6,13.8V10.8H451.6V203Z" fill="#ff6c00"/>
<path d="M434.5,203L434.5,200C434.6,137.9 422,75.9 396.2,13.8V10.8H451.6V203Z" fill="#ff8500"/>
<path d="M435.8,203L435.8,200C436,137.9 423.8,75.9 397.7,13.8V10.8H451.6V203Z" fill="#ffa500"/>
<path d="M436.3,203L436.3,200C436.5,137.9 424.6,75.9 398.8,13.8V10.8H451.6V203Z" fill="#fc0"/>
<path d="M436.9,203L436.9,200C437.1,137.9 425.5,75.9 399.9,13.8V10.8H451.6V203Z" fill="#fff300"/>
<path d="M437.4,203L437.4,200C437.6,137.9 426.3,75.9 401,13.8V10.8H451.6V203Z" fill="#e8ff00"/>
<path d="M437.7,203L437.7,200C438,137.9 427.4,75.9 402.2,13.8V10.8H451.6V203Z" fill="url(#g70)"/>
<path d="M438,203L438,200C438.4,137.9 428.5,75.9 403.3,13.8V10.8H451.6V203Z" fill="url(#g71)"/>
<path d="M438.3,203L438.3,200C438.7,137.9 429.6,75.9 404.5,13.8V10.8H451.6V203Z" fill="url(#g72)"/>
<path d="M438.7,203L438.7,200C439.2,137.9 430.4,75.9 405.7,13.8V10.8H451.6V203Z" fill="url(#g73)"/>
<path d="M439.1,203L439.1,200C439.6,137.9 431.3,75.9 406.8,13.8V10.8H451.6V203Z" fill="url(#g74)"/>
<path d="M439.5,203L439.5,200C440,137.9 432.1,75.9 408,13.8V10.8H451.6V203Z" fill="url(#g75)"/>
<path d="M441.8,203L441.8,200C442,137.9 433.7,75.9 413,13.8V10.8H451.6V203Z" fill="#18ff00"/>
<path d="M444,203L444,200C444,137.9 435.3,75.9 418,13.8V10.8H451.6V203Z" fill="url(#g76)"/>
<path d="M445,203L445,200C445,137.9 436.5,75.9 419,13.8V10.8H451.6V203Z" fill="url(#g77)"/>
<path d="M446,203L446,200C446.1,137.9 437.6,75.9 420,13.8V10.8H451.6V203Z" fill="url(#g78)"/>
<path d="M447,203L447,200C447.1,137.9 438.7,75.9 421,13.8V10.8H451.6V203Z" fill="url(#g79)"/>
<path d="M448,203L448,200C448.1,137.9 439.8,75.9 422,13.8V10.8H451.6V203Z" fill="url(#g80)"/>
<path d="M449,203L449,200C449.1,137.9 441,75.9 423,13.8V10.8H451.6V203Z" fill="url(#g81)"/>
<path d="M450.2,203L450.2,200C450.1,137.9 441,75.9 424,13.8V10.8H451.6V203Z" fill="url(#g82)"/>
<path d="M451.4,203L451.4,200C451,137.9 441.2,75.9 425,13.8V10.8H451.6V203Z" fill="url(#g83)"/>
<path d="M452.6,203L452.6,200C451.8,137.9 441.4,75.9 426,13.8V10.8H451.6V203Z" fill="url(#g84)"/>
<path d="M453.8,203L453.8,200C452.5,137.9 441.6,75.9 427,13.8V10.8H451.6V203Z" fill="url(#g85)"/>
<path d="M455,203L455,200C453.2,137.9 441.9,75.9 428,13.8V10.8H451.6V203Z" fill="url(#g86)"/>
<path d="M456.2,203L456.2,200C454.2,137.9 443.1,75.9 429.9,13.8V10.8H451.6V203Z" fill="url(#g87)"/>
<path d="M457.4,203L457.4,200C455.2,137.9 444.3,75.9 431.8,13.8V10.8H451.6V203Z" fill="url(#g88)"/>
<path d="M458.6,203L458.6,200C456.1,137.9 445.5,75.9 433.7,13.8V10.8H451.6V203Z" fill="url(#g89)"/>
<path d="M459.8,203L459.8,200C457.1,137.9 446.8,75.9 435.6,13.8V10.8H451.6V203Z" fill="url(#g90)"/>
<path d="M461,203L461,200C458,137.9 448,75.9 437.5,13.8V10.8H451.6V203Z" fill="url(#g91)"/>
<path d="M462.4,203L462.4,200C459.5,137.9 449.7,75.9 439.4,13.8V10.8H451.6V203Z" fill="url(#g92)"/>
<path d="M463.8,203L463.8,200C461,137.9 451.4,75.9 441.3,13.8V10.8H451.6V203Z" fill="url(#g93)"/>
<path d="M465.2,203L465.2,200C462.4,137.9 453.1,75.9 443.2,13.8V10.8H451.6V203Z" fill="url(#g94)"/>
<path d="M466.6,203L466.6,200C463.9,137.9 454.7,75.9 445.1,13.8V10.8H451.6V203Z" fill="url(#g95)"/>
<path d="M468,203L468,200C465.4,137.9 456.4,75.9 447,13.8V10.8H451.6V203Z" fill="url(#g96)"/>
<path d="M484,203L484,200C481.7,137.9 470.9,75.9 458.5,13.8V10.8H451.6V203Z" fill="#0006ff"/>
</g>
<path d="M304.8,200C304.5,137.9 299.6,75.9 291.7,13.8" fill="none" stroke="#fff" stroke-width="1.2" stroke-dasharray="4 2.2"/>
<path d="M435.8,200C436,137.9 423.8,75.9 397.7,13.8" fill="none" stroke="#fff" stroke-width="1.2" stroke-dasharray="4 2.2"/>
</g>
<rect x="285.7" y="13.8" width="161.9" height="186.2" fill="none" stroke="#000" stroke-width="1" stroke-opacity=".8"/>
<text x="305.9" y="212.7" class="t" text-anchor="middle">400</text>
<text x="346.4" y="212.7" class="t" text-anchor="middle">500</text>
<text x="386.9" y="212.7" class="t" text-anchor="middle">600</text>
<text x="427.4" y="212.7" class="t" text-anchor="middle">700</text>
<text x="282.9" y="204.1" class="t" text-anchor="end">0</text>
<text x="282.9" y="166.9" class="t" text-anchor="end">10</text>
<path d="M285.7,162.8h2.3" stroke="#000" stroke-width="0.9" stroke-opacity=".55"/>
<text x="282.9" y="129.6" class="t" text-anchor="end">20</text>
<path d="M285.7,125.5h2.3" stroke="#000" stroke-width="0.9" stroke-opacity=".55"/>
<text x="282.9" y="92.4" class="t" text-anchor="end">30</text>
<path d="M285.7,88.3h2.3" stroke="#000" stroke-width="0.9" stroke-opacity=".55"/>
<text x="282.9" y="55.1" class="t" text-anchor="end">40</text>
<path d="M285.7,51h2.3" stroke="#000" stroke-width="0.9" stroke-opacity=".55"/>
<text x="282.9" y="17.9" class="t" text-anchor="end">50</text>
<text x="367.4"  y="233.5" class="ax" text-anchor="middle">Wavelength (nm)</text>
<text transform="translate(261,102.6) rotate(-90) scale(1,1.1)" class="ax" text-anchor="middle">Incident angle (degree)</text>
<text x="235" y="16.4" class="pl">(b)</text>
<text x="417.3"  y="82.2" class="l90" text-anchor="middle">90%</text>
<g clip-path="url(#cc)"><rect x="48.5" y="253.3" width="166.6" height="189.89999999999998" fill="#00f"/><g filter="url(#bl)">
<path d="M20,444.2L20,441.2C16.7,379.2 13.3,317.3 10,255.3V252.3H217.1V444.2Z" fill="#00f"/>
<path d="M81.4,444.2L81.4,441.2C80.9,379.2 74.7,317.3 65.4,255.3V252.3H217.1V444.2Z" fill="url(#g97)"/>
<path d="M82.3,444.2L82.3,441.2C81.8,379.2 75.6,317.3 66.3,255.3V252.3H217.1V444.2Z" fill="url(#g98)"/>
<path d="M83.7,444.2L83.7,441.2C83.2,379.2 77,317.3 67.7,255.3V252.3H217.1V444.2Z" fill="url(#g99)"/>
<path d="M84.6,444.2L84.6,441.2C84.1,379.2 77.9,317.3 68.6,255.3V252.3H217.1V444.2Z" fill="#00f"/>
<path d="M88.8,444.2L88.8,441.2C88.4,379.2 82.2,317.3 72.3,255.3V252.3H217.1V444.2Z" fill="url(#g100)"/>
<path d="M89.7,444.2L89.7,441.2C89.3,379.2 83.1,317.3 73.2,255.3V252.3H217.1V444.2Z" fill="url(#g101)"/>
<path d="M91.3,444.2L91.3,441.2C90.9,379.2 84.7,317.3 74.8,255.3V252.3H217.1V444.2Z" fill="url(#g102)"/>
<path d="M92.2,444.2L92.2,441.2C91.8,379.2 85.6,317.3 75.7,255.3V252.3H217.1V444.2Z" fill="#00f"/>
<path d="M96.6,444.2L96.6,441.2C96,379.2 89.9,317.3 81,255.3V252.3H217.1V444.2Z" fill="url(#g103)"/>
<path d="M97.5,444.2L97.5,441.2C96.9,379.2 90.8,317.3 81.9,255.3V252.3H217.1V444.2Z" fill="url(#g104)"/>
<path d="M100.1,444.2L100.1,441.2C99.7,379.2 93.2,317.3 82.9,255.3V252.3H217.1V444.2Z" fill="url(#g105)"/>
<path d="M101,444.2L101,441.2C100.6,379.2 94.1,317.3 83.8,255.3V252.3H217.1V444.2Z" fill="#00f"/>
<path d="M103.5,444.2L103.5,441.2C103,379.2 96.6,317.3 87.5,255.3V252.3H217.1V444.2Z" fill="url(#g106)"/>
<path d="M104.4,444.2L104.4,441.2C103.9,379.2 97.5,317.3 88.3,255.3V252.3H217.1V444.2Z" fill="url(#g107)"/>
<path d="M107.6,444.2L107.6,441.2C107.3,379.2 101.1,317.3 91.4,255.3V252.3H217.1V444.2Z" fill="url(#g108)"/>
<path d="M108.2,444.2L108.2,441.2C107.9,379.2 101.9,317.3 92.2,255.3V252.3H217.1V444.2Z" fill="url(#g109)"/>
<path d="M109,444.2L109,441.2C108.6,379.2 102.6,317.3 93.6,255.3V252.3H217.1V444.2Z" fill="url(#g110)"/>
<path d="M109.6,444.2L109.6,441.2C109.1,379.2 103,317.3 94.2,255.3V252.3H217.1V444.2Z" fill="url(#g111)"/>
<path d="M110.2,444.2L110.2,441.2C109.7,379.2 103.6,317.3 94.8,255.3V252.3H217.1V444.2Z" fill="#ff4900"/>
<path d="M110.9,444.2L110.9,441.2C110.5,379.2 104.5,317.3 95.6,255.3V252.3H217.1V444.2Z" fill="#f00"/>
<path d="M185.8,444.2L185.8,441.2C184.9,379.2 170.6,317.3 148,255.3V252.3H217.1V444.2Z" fill="#ff4900"/>
<path d="M186.6,444.2L186.6,441.2C185.9,379.2 171.7,317.3 149,255.3V252.3H217.1V444.2Z" fill="#92ff00"/>
<path d="M187.3,444.2L187.3,441.2C186.6,379.2 172.7,317.3 150.2,255.3V252.3H217.1V444.2Z" fill="#00dbff"/>
<path d="M187.9,444.2L187.9,441.2C187.2,379.2 173.3,317.3 151,255.3V252.3H217.1V444.2Z" fill="#00f"/>
<path d="M189.9,444.2L189.9,441.2C188.7,379.2 174.5,317.3 153.8,255.3V252.3H217.1V444.2Z" fill="url(#g112)"/>
<path d="M190.6,444.2L190.6,441.2C189.4,379.2 175.3,317.3 154.8,255.3V252.3H217.1V444.2Z" fill="url(#g113)"/>
<path d="M194,444.2L194,441.2C192.8,379.2 178.3,317.3 157,255.3V252.3H217.1V444.2Z" fill="url(#g114)"/>
<path d="M196.4,444.2L196.4,441.2C195.2,379.2 180.4,317.3 158.6,255.3V252.3H217.1V444.2Z" fill="url(#g115)"/>
<path d="M198.8,444.2L198.8,441.2C197.6,379.2 182.6,317.3 160.2,255.3V252.3H217.1V444.2Z" fill="#00f8ff"/>
<path d="M199.8,444.2L199.8,441.2C198.6,379.2 183.5,317.3 161.4,255.3V252.3H217.1V444.2Z" fill="#00f"/>
<path d="M206,444.2L206,441.2C205,379.2 191.2,317.3 170.5,255.3V252.3H217.1V444.2Z" fill="url(#g116)"/>
<path d="M206.9,444.2L206.9,441.2C205.9,379.2 192.3,317.3 171.5,255.3V252.3H217.1V444.2Z" fill="url(#g117)"/>
<path d="M211.8,444.2L211.8,441.2C210.9,379.2 197.1,317.3 175.5,255.3V252.3H217.1V444.2Z" fill="url(#g118)"/>
<path d="M212.8,444.2L212.8,441.2C212.1,379.2 198.5,317.3 176.5,255.3V252.3H217.1V444.2Z" fill="#00f"/>
</g>
<path d="M110.2,441.2C109.7,379.2 103.6,317.3 94.8,255.3" fill="none" stroke="#fff" stroke-width="1.2" stroke-dasharray="4 2.2"/>
<path d="M186.6,441.2C185.9,379.2 171.7,317.3 149,255.3" fill="none" stroke="#fff" stroke-width="1.2" stroke-dasharray="4 2.2"/>
</g>
<rect x="50.5" y="255.3" width="162.6" height="185.9" fill="none" stroke="#000" stroke-width="1" stroke-opacity=".8"/>
<text x="70.8" y="453.9" class="t" text-anchor="middle">400</text>
<text x="111.5" y="453.9" class="t" text-anchor="middle">500</text>
<text x="152.1" y="453.9" class="t" text-anchor="middle">600</text>
<text x="192.8" y="453.9" class="t" text-anchor="middle">700</text>
<text x="47.7" y="445.3" class="t" text-anchor="end">0</text>
<text x="47.7" y="408.1" class="t" text-anchor="end">10</text>
<path d="M50.5,404h2.3" stroke="#000" stroke-width="0.9" stroke-opacity=".55"/>
<text x="47.7" y="370.9" class="t" text-anchor="end">20</text>
<path d="M50.5,366.8h2.3" stroke="#000" stroke-width="0.9" stroke-opacity=".55"/>
<text x="47.7" y="333.8" class="t" text-anchor="end">30</text>
<path d="M50.5,329.7h2.3" stroke="#000" stroke-width="0.9" stroke-opacity=".55"/>
<text x="47.7" y="296.6" class="t" text-anchor="end">40</text>
<path d="M50.5,292.5h2.3" stroke="#000" stroke-width="0.9" stroke-opacity=".55"/>
<text x="47.7" y="259.4" class="t" text-anchor="end">50</text>
<text x="132.6"  y="475.7" class="ax" text-anchor="middle">Wavelength (nm)</text>
<text transform="translate(25.8,342.8) rotate(-90) scale(1,1.1)" class="ax" text-anchor="middle">Incident angle (degree)</text>
<text x="2.6" y="257.9" class="pl">(c)</text>
<text x="181"  y="425.5" class="l90" text-anchor="middle">90%</text>
<g clip-path="url(#cd)"><rect x="283.7" y="253.3" width="165.90000000000003" height="189.89999999999998" fill="#00f"/><g filter="url(#bl)">
<path d="M250,444.2L250,441.2C246.7,379.2 243.3,317.3 240,255.3V252.3H451.6V444.2Z" fill="url(#g119)"/>
<path d="M269.8,444.2L269.8,441.2C268.3,379.2 262,317.3 255,255.3V252.3H451.6V444.2Z" fill="url(#g120)"/>
<path d="M289.6,444.2L289.6,441.2C289.1,379.2 281.5,317.3 270,255.3V252.3H451.6V444.2Z" fill="url(#g121)"/>
<path d="M290.7,444.2L290.7,441.2C290.4,379.2 283.3,317.3 271.9,255.3V252.3H451.6V444.2Z" fill="url(#g122)"/>
<path d="M291.8,444.2L291.8,441.2C291.6,379.2 285.2,317.3 273.8,255.3V252.3H451.6V444.2Z" fill="url(#g123)"/>
<path d="M292.9,444.2L292.9,441.2C292.9,379.2 287.1,317.3 275.6,255.3V252.3H451.6V444.2Z" fill="url(#g124)"/>
<path d="M294,444.2L294,441.2C294.1,379.2 289,317.3 277.5,255.3V252.3H451.6V444.2Z" fill="url(#g125)"/>
<path d="M294.5,444.2L294.5,441.2C294.6,379.2 289.8,317.3 278.5,255.3V252.3H451.6V444.2Z" fill="#00f"/>
<path d="M297.8,444.2L297.8,441.2C297.7,379.2 291.9,317.3 281.5,255.3V252.3H451.6V444.2Z" fill="url(#g126)"/>
<path d="M298.4,444.2L298.4,441.2C298.3,379.2 292.8,317.3 282.5,255.3V252.3H451.6V444.2Z" fill="url(#g127)"/>
<path d="M301.5,444.2L301.5,441.2C301.3,379.2 295.4,317.3 285.4,255.3V252.3H451.6V444.2Z" fill="url(#g128)"/>
<path d="M302.1,444.2L302.1,441.2C301.9,379.2 296,317.3 286.1,255.3V252.3H451.6V444.2Z" fill="url(#g129)"/>
<path d="M303.6,444.2L303.6,441.2C303.1,379.2 297.4,317.3 289.5,255.3V252.3H451.6V444.2Z" fill="url(#g130)"/>
<path d="M304,444.2L304,441.2C303.7,379.2 298.5,317.3 290.2,255.3V252.3H451.6V444.2Z" fill="url(#g131)"/>
<path d="M304.2,444.2L304.2,441.2C304,379.2 299.1,317.3 291,255.3V252.3H451.6V444.2Z" fill="url(#g132)"/>
<path d="M304.4,444.2L304.4,441.2C304.3,379.2 299.7,317.3 291.8,255.3V252.3H451.6V444.2Z" fill="url(#g133)"/>
<path d="M304.8,444.2L304.8,441.2C304.7,379.2 300.6,317.3 292.8,255.3V252.3H451.6V444.2Z" fill="#ff5300"/>
<path d="M305.6,444.2L305.6,441.2C305.6,379.2 301.6,317.3 293.8,255.3V252.3H451.6V444.2Z" fill="#ff1400"/>
<path d="M347,444.2L347,441.2C344.9,379.2 338.3,317.3 331.5,255.3V252.3H451.6V444.2Z" fill="#ff1900"/>
<path d="M348.2,444.2L348.2,441.2C346.2,379.2 339.6,317.3 332.8,255.3V252.3H451.6V444.2Z" fill="url(#g134)"/>
<path d="M349.5,444.2L349.5,441.2C347.4,379.2 340.8,317.3 334,255.3V252.3H451.6V444.2Z" fill="url(#g135)"/>
<path d="M352.5,444.2L352.5,441.2C350,379.2 343.9,317.3 338,255.3V252.3H451.6V444.2Z" fill="url(#g136)"/>
<path d="M353.8,444.2L353.8,441.2C351.2,379.2 345.2,317.3 339.2,255.3V252.3H451.6V444.2Z" fill="#ff1900"/>
<path d="M355,444.2L355,441.2C352.5,379.2 346.4,317.3 340.5,255.3V252.3H451.6V444.2Z" fill="#ff1400"/>
<path d="M360.5,444.2L360.5,441.2C358.4,379.2 351.8,317.3 345,255.3V252.3H451.6V444.2Z" fill="#ff1600"/>
<path d="M363,444.2L363,441.2C360.9,379.2 354.3,317.3 347.5,255.3V252.3H451.6V444.2Z" fill="#ff1700"/>
<path d="M365,444.2L365,441.2C362.5,379.2 356.4,317.3 350.5,255.3V252.3H451.6V444.2Z" fill="#ff1600"/>
<path d="M367.5,444.2L367.5,441.2C365,379.2 358.9,317.3 353,255.3V252.3H451.6V444.2Z" fill="#ff1400"/>
<path d="M379,444.2L379,441.2C375.3,379.2 369.3,317.3 363.5,255.3V252.3H451.6V444.2Z" fill="#ff1600"/>
<path d="M381.5,444.2L381.5,441.2C377.8,379.2 371.8,317.3 366,255.3V252.3H451.6V444.2Z" fill="#ff1700"/>
<path d="M384.5,444.2L384.5,441.2C380.2,379.2 375,317.3 370,255.3V252.3H451.6V444.2Z" fill="#ff1600"/>
<path d="M387,444.2L387,441.2C382.7,379.2 377.5,317.3 372.5,255.3V252.3H451.6V444.2Z" fill="#ff1400"/>
<path d="M429.5,444.2L429.5,441.2C427.6,379.2 410.8,317.3 388,255.3V252.3H451.6V444.2Z" fill="#ff2100"/>
<path d="M430.8,444.2L430.8,441.2C429,379.2 412.3,317.3 389.4,255.3V252.3H451.6V444.2Z" fill="#ff3a00"/>
<path d="M432,444.2L432,441.2C430.3,379.2 413.9,317.3 390.9,255.3V252.3H451.6V444.2Z" fill="#ff5300"/>
<path d="M433.3,444.2L433.3,441.2C431.7,379.2 415.4,317.3 392.3,255.3V252.3H451.6V444.2Z" fill="#ff6c00"/>
<path d="M434.5,444.2L434.5,441.2C433.1,379.2 417,317.3 393.8,255.3V252.3H451.6V444.2Z" fill="#ff8500"/>
<path d="M435.8,444.2L435.8,441.2C434.5,379.2 418.5,317.3 395.2,255.3V252.3H451.6V444.2Z" fill="#ffaf00"/>
<path d="M436.6,444.2L436.6,441.2C435.3,379.2 419.5,317.3 396.1,255.3V252.3H451.6V444.2Z" fill="#ffe900"/>
<path d="M437.4,444.2L437.4,441.2C436.2,379.2 420.5,317.3 397,255.3V252.3H451.6V444.2Z" fill="#c2ff00"/>
<path d="M438.2,444.2L438.2,441.2C437,379.2 421.3,317.3 398,255.3V252.3H451.6V444.2Z" fill="url(#g137)"/>
<path d="M439.1,444.2L439.1,441.2C437.8,379.2 422.1,317.3 399,255.3V252.3H451.6V444.2Z" fill="url(#g138)"/>
<path d="M440.3,444.2L440.3,441.2C439.4,379.2 423.7,317.3 399.4,255.3V252.3H451.6V444.2Z" fill="url(#g139)"/>
<path d="M441.6,444.2L441.6,441.2C440.8,379.2 425.3,317.3 399.8,255.3V252.3H451.6V444.2Z" fill="url(#g140)"/>
<path d="M442.8,444.2L442.8,441.2C442.3,379.2 426.9,317.3 400.2,255.3V252.3H451.6V444.2Z" fill="url(#g141)"/>
<path d="M444.1,444.2L444.1,441.2C443.8,379.2 428.6,317.3 400.6,255.3V252.3H451.6V444.2Z" fill="url(#g142)"/>
<path d="M445.3,444.2L445.3,441.2C445.2,379.2 430.2,317.3 401.1,255.3V252.3H451.6V444.2Z" fill="url(#g143)"/>
<path d="M446.5,444.2L446.5,441.2C446.6,379.2 431.9,317.3 401.5,255.3V252.3H451.6V444.2Z" fill="url(#g144)"/>
<path d="M447.8,444.2L447.8,441.2C448,379.2 433.6,317.3 401.9,255.3V252.3H451.6V444.2Z" fill="url(#g145)"/>
<path d="M449,444.2L449,441.2C449.4,379.2 435.3,317.3 402.3,255.3V252.3H451.6V444.2Z" fill="url(#g146)"/>
<path d="M450.2,444.2L450.2,441.2C450.4,379.2 435.5,317.3 402.7,255.3V252.3H451.6V444.2Z" fill="url(#g147)"/>
<path d="M451.4,444.2L451.4,441.2C451.5,379.2 435.6,317.3 403.2,255.3V252.3H451.6V444.2Z" fill="url(#g148)"/>
<path d="M452.6,444.2L452.6,441.2C452.5,379.2 435.8,317.3 403.6,255.3V252.3H451.6V444.2Z" fill="url(#g149)"/>
<path d="M453.8,444.2L453.8,441.2C453.5,379.2 436,317.3 404.1,255.3V252.3H451.6V444.2Z" fill="url(#g150)"/>
<path d="M455,444.2L455,441.2C454.4,379.2 436.2,317.3 404.5,255.3V252.3H451.6V444.2Z" fill="url(#g151)"/>
<path d="M456,444.2L456,441.2C455.1,379.2 436.3,317.3 405.3,255.3V252.3H451.6V444.2Z" fill="url(#g152)"/>
<path d="M457,444.2L457,441.2C455.8,379.2 436.5,317.3 406.2,255.3V252.3H451.6V444.2Z" fill="url(#g153)"/>
<path d="M458,444.2L458,441.2C456.5,379.2 436.7,317.3 407,255.3V252.3H451.6V444.2Z" fill="url(#g154)"/>
<path d="M459,444.2L459,441.2C457.1,379.2 436.6,317.3 407.7,255.3V252.3H451.6V444.2Z" fill="url(#g155)"/>
<path d="M460,444.2L460,441.2C457.6,379.2 436.6,317.3 408.3,255.3V252.3H451.6V444.2Z" fill="url(#g156)"/>
<path d="M461,444.2L461,441.2C458.1,379.2 436.7,317.3 409,255.3V252.3H451.6V444.2Z" fill="url(#g157)"/>
<path d="M462.3,444.2L462.3,441.2C458.4,379.2 436.6,317.3 410.7,255.3V252.3H451.6V444.2Z" fill="url(#g158)"/>
<path d="M463.7,444.2L463.7,441.2C458.5,379.2 436.7,317.3 412.3,255.3V252.3H451.6V444.2Z" fill="url(#g159)"/>
<path d="M465,444.2L465,441.2C458.5,379.2 436.8,317.3 414,255.3V252.3H451.6V444.2Z" fill="url(#g160)"/>
<path d="M466,444.2L466,441.2C458.7,379.2 437,317.3 414.8,255.3V252.3H451.6V444.2Z" fill="url(#g161)"/>
<path d="M467,444.2L467,441.2C458.7,379.2 437.2,317.3 415.7,255.3V252.3H451.6V444.2Z" fill="url(#g162)"/>
<path d="M468,444.2L468,441.2C458.8,379.2 437.4,317.3 416.5,255.3V252.3H451.6V444.2Z" fill="#00f"/>
<path d="M476.5,444.2L476.5,441.2C454.8,379.2 449.9,317.3 439,255.3V252.3H451.6V444.2Z" fill="url(#g163)"/>
<path d="M477.2,444.2L477.2,441.2C455.5,379.2 450.7,317.3 439.8,255.3V252.3H451.6V444.2Z" fill="url(#g164)"/>
<path d="M478,444.2L478,441.2C456.3,379.2 451.4,317.3 440.5,255.3V252.3H451.6V444.2Z" fill="url(#g165)"/>
<path d="M482,444.2L482,441.2C460.8,379.2 456.1,317.3 445.5,255.3V252.3H451.6V444.2Z" fill="url(#g166)"/>
<path d="M482.8,444.2L482.8,441.2C461.6,379.2 456.9,317.3 446.2,255.3V252.3H451.6V444.2Z" fill="url(#g167)"/>
<path d="M483.5,444.2L483.5,441.2C462.3,379.2 457.6,317.3 447,255.3V252.3H451.6V444.2Z" fill="#00f"/>
</g>
<path d="M304.8,441.2C304.7,379.2 300.6,317.3 292.8,255.3" fill="none" stroke="#fff" stroke-width="1.2" stroke-dasharray="4 2.2"/>
<path d="M435.8,441.2C434.5,379.2 418.5,317.3 395.2,255.3" fill="none" stroke="#fff" stroke-width="1.2" stroke-dasharray="4 2.2"/>
</g>
<rect x="285.7" y="255.3" width="161.9" height="185.9" fill="none" stroke="#000" stroke-width="1" stroke-opacity=".8"/>
<text x="305.9" y="453.9" class="t" text-anchor="middle">400</text>
<text x="346.4" y="453.9" class="t" text-anchor="middle">500</text>
<text x="386.9" y="453.9" class="t" text-anchor="middle">600</text>
<text x="427.4" y="453.9" class="t" text-anchor="middle">700</text>
<text x="282.9" y="445.3" class="t" text-anchor="end">0</text>
<text x="282.9" y="408.1" class="t" text-anchor="end">10</text>
<path d="M285.7,404h2.3" stroke="#000" stroke-width="0.9" stroke-opacity=".55"/>
<text x="282.9" y="370.9" class="t" text-anchor="end">20</text>
<path d="M285.7,366.8h2.3" stroke="#000" stroke-width="0.9" stroke-opacity=".55"/>
<text x="282.9" y="333.8" class="t" text-anchor="end">30</text>
<path d="M285.7,329.7h2.3" stroke="#000" stroke-width="0.9" stroke-opacity=".55"/>
<text x="282.9" y="296.6" class="t" text-anchor="end">40</text>
<path d="M285.7,292.5h2.3" stroke="#000" stroke-width="0.9" stroke-opacity=".55"/>
<text x="282.9" y="259.4" class="t" text-anchor="end">50</text>
<text x="367.4"  y="475.7" class="ax" text-anchor="middle">Wavelength (nm)</text>
<text transform="translate(261,343.9) rotate(-90) scale(1,1.1)" class="ax" text-anchor="middle">Incident angle (degree)</text>
<text x="235" y="257.9" class="pl">(d)</text>
<text x="433.7"  y="426" class="l90" text-anchor="middle">90%</text>
<g clip-path="url(#ce)"><rect x="48.5" y="492.6" width="166.6" height="190.29999999999995" fill="#00f"/><g filter="url(#bl)">
<path d="M20,683.9L20,680.9C13.9,618.8 9.7,556.7 5,494.6V491.6H217.1V683.9Z" fill="#00f"/>
<path d="M59.8,683.9L59.8,680.9C59.1,618.8 51.9,556.7 41.9,494.6V491.6H217.1V683.9Z" fill="url(#g168)"/>
<path d="M60.7,683.9L60.7,680.9C60,618.8 52.8,556.7 42.8,494.6V491.6H217.1V683.9Z" fill="url(#g169)"/>
<path d="M62.3,683.9L62.3,680.9C61.7,618.8 55,556.7 45.2,494.6V491.6H217.1V683.9Z" fill="url(#g170)"/>
<path d="M63.2,683.9L63.2,680.9C62.6,618.8 55.9,556.7 46.1,494.6V491.6H217.1V683.9Z" fill="#00f"/>
<path d="M66.9,683.9L66.9,680.9C65.5,618.8 57.7,556.7 48.4,494.6V491.6H217.1V683.9Z" fill="url(#g171)"/>
<path d="M67.8,683.9L67.8,680.9C66.4,618.8 58.6,556.7 49.3,494.6V491.6H217.1V683.9Z" fill="url(#g172)"/>
<path d="M69.4,683.9L69.4,680.9C68.2,618.8 60.8,556.7 51.7,494.6V491.6H217.1V683.9Z" fill="url(#g173)"/>
<path d="M70.3,683.9L70.3,680.9C69.1,618.8 61.7,556.7 52.6,494.6V491.6H217.1V683.9Z" fill="#00f"/>
<path d="M74.1,683.9L74.1,680.9C72.8,618.8 64.7,556.7 54.6,494.6V491.6H217.1V683.9Z" fill="url(#g174)"/>
<path d="M75,683.9L75,680.9C73.7,618.8 65.6,556.7 55.5,494.6V491.6H217.1V683.9Z" fill="url(#g175)"/>
<path d="M76.6,683.9L76.6,680.9C75.5,618.8 67.8,556.7 57.9,494.6V491.6H217.1V683.9Z" fill="url(#g176)"/>
<path d="M77.5,683.9L77.5,680.9C76.4,618.8 68.7,556.7 58.8,494.6V491.6H217.1V683.9Z" fill="#00f"/>
<path d="M81.3,683.9L81.3,680.9C80.4,618.8 72.2,556.7 61,494.6V491.6H217.1V683.9Z" fill="url(#g177)"/>
<path d="M82.2,683.9L82.2,680.9C81.3,618.8 73.1,556.7 61.9,494.6V491.6H217.1V683.9Z" fill="url(#g178)"/>
<path d="M83.8,683.9L83.8,680.9C83.2,618.8 75.7,556.7 64.5,494.6V491.6H217.1V683.9Z" fill="url(#g179)"/>
<path d="M84.7,683.9L84.7,680.9C84.1,618.8 76.6,556.7 65.4,494.6V491.6H217.1V683.9Z" fill="#00f"/>
<path d="M88.8,683.9L88.8,680.9C88.2,618.8 79.8,556.7 67.4,494.6V491.6H217.1V683.9Z" fill="url(#g180)"/>
<path d="M89.7,683.9L89.7,680.9C89.1,618.8 80.7,556.7 68.3,494.6V491.6H217.1V683.9Z" fill="url(#g181)"/>
<path d="M91.3,683.9L91.3,680.9C91.2,618.8 84.1,556.7 71.1,494.6V491.6H217.1V683.9Z" fill="url(#g182)"/>
<path d="M92.2,683.9L92.2,680.9C92.1,618.8 85,556.7 72,494.6V491.6H217.1V683.9Z" fill="#00f"/>
<path d="M96.6,683.9L96.6,680.9C96,618.8 87.1,556.7 73.6,494.6V491.6H217.1V683.9Z" fill="url(#g183)"/>
<path d="M97.5,683.9L97.5,680.9C96.9,618.8 88,556.7 74.5,494.6V491.6H217.1V683.9Z" fill="url(#g184)"/>
<path d="M100.1,683.9L100.1,680.9C99.6,618.8 90.9,556.7 77.3,494.6V491.6H217.1V683.9Z" fill="url(#g185)"/>
<path d="M101,683.9L101,680.9C100.5,618.8 91.8,556.7 78.2,494.6V491.6H217.1V683.9Z" fill="#00f"/>
<path d="M103.5,683.9L103.5,680.9C102.3,618.8 92.4,556.7 79.3,494.6V491.6H217.1V683.9Z" fill="url(#g186)"/>
<path d="M104.4,683.9L104.4,680.9C103.1,618.8 93.1,556.7 80.2,494.6V491.6H217.1V683.9Z" fill="url(#g187)"/>
<path d="M106,683.9L106,680.9C104.9,618.8 95.2,556.7 82,494.6V491.6H217.1V683.9Z" fill="url(#g188)"/>
<path d="M107.6,683.9L107.6,680.9C106.7,618.8 97.3,556.7 83.8,494.6V491.6H217.1V683.9Z" fill="url(#g189)"/>
<path d="M108.2,683.9L108.2,680.9C107.4,618.8 97.9,556.7 84.3,494.6V491.6H217.1V683.9Z" fill="url(#g190)"/>
<path d="M109,683.9L109,680.9C108.1,618.8 98.4,556.7 84.7,494.6V491.6H217.1V683.9Z" fill="url(#g191)"/>
<path d="M109.6,683.9L109.6,680.9C108.7,618.8 98.8,556.7 85,494.6V491.6H217.1V683.9Z" fill="url(#g192)"/>
<path d="M110.2,683.9L110.2,680.9C109.2,618.8 99.3,556.7 85.3,494.6V491.6H217.1V683.9Z" fill="#ff4900"/>
<path d="M110.9,683.9L110.9,680.9C110,618.8 100.2,556.7 86.1,494.6V491.6H217.1V683.9Z" fill="#f00"/>
<path d="M185.8,683.9L185.8,680.9C185.7,618.8 179.3,556.7 167,494.6V491.6H217.1V683.9Z" fill="#ff4900"/>
<path d="M186.6,683.9L186.6,680.9C186.6,618.8 180.3,556.7 167.9,494.6V491.6H217.1V683.9Z" fill="#92ff00"/>
<path d="M187.3,683.9L187.3,680.9C187.3,618.8 181,556.7 168.8,494.6V491.6H217.1V683.9Z" fill="#00dbff"/>
<path d="M187.9,683.9L187.9,680.9C187.8,618.8 181.6,556.7 169.5,494.6V491.6H217.1V683.9Z" fill="#00f"/>
<path d="M189.9,683.9L189.9,680.9C189.6,618.8 182.5,556.7 170.9,494.6V491.6H217.1V683.9Z" fill="url(#g193)"/>
<path d="M190.6,683.9L190.6,680.9C190.3,618.8 183.2,556.7 171.6,494.6V491.6H217.1V683.9Z" fill="url(#g194)"/>
<path d="M191.6,683.9L191.6,680.9C191.2,618.8 184,556.7 172.4,494.6V491.6H217.1V683.9Z" fill="url(#g195)"/>
<path d="M192.5,683.9L192.5,680.9C192.1,618.8 184.7,556.7 173.2,494.6V491.6H217.1V683.9Z" fill="url(#g196)"/>
<path d="M194.2,683.9L194.2,680.9C193.4,618.8 186,556.7 175.7,494.6V491.6H217.1V683.9Z" fill="url(#g197)"/>
<path d="M196,683.9L196,680.9C194.7,618.8 187.3,556.7 178.2,494.6V491.6H217.1V683.9Z" fill="url(#g198)"/>
<path d="M196.9,683.9L196.9,680.9C195.7,618.8 188,556.7 178.7,494.6V491.6H217.1V683.9Z" fill="url(#g199)"/>
<path d="M197.9,683.9L197.9,680.9C196.6,618.8 188.8,556.7 179.1,494.6V491.6H217.1V683.9Z" fill="url(#g200)"/>
<path d="M198.8,683.9L198.8,680.9C197.5,618.8 189.5,556.7 179.6,494.6V491.6H217.1V683.9Z" fill="#00f8ff"/>
<path d="M199.8,683.9L199.8,680.9C198.5,618.8 190.4,556.7 180.4,494.6V491.6H217.1V683.9Z" fill="#00f"/>
<path d="M206,683.9L206,680.9C204.9,618.8 195.6,556.7 183.2,494.6V491.6H217.1V683.9Z" fill="url(#g201)"/>
<path d="M206.4,683.9L206.4,680.9C205.3,618.8 196.1,556.7 183.9,494.6V491.6H217.1V683.9Z" fill="url(#g202)"/>
<path d="M206.9,683.9L206.9,680.9C205.8,618.8 196.6,556.7 184.6,494.6V491.6H217.1V683.9Z" fill="url(#g203)"/>
<path d="M211.8,683.9L211.8,680.9C211.1,618.8 204.3,556.7 195,494.6V491.6H217.1V683.9Z" fill="url(#g204)"/>
<path d="M212.3,683.9L212.3,680.9C211.5,618.8 204.8,556.7 195.7,494.6V491.6H217.1V683.9Z" fill="url(#g205)"/>
<path d="M212.8,683.9L212.8,680.9C212,618.8 205.3,556.7 196.4,494.6V491.6H217.1V683.9Z" fill="#00f"/>
<path d="M219,683.9L219,680.9C217.5,618.8 210.3,556.7 202,494.6V491.6H217.1V683.9Z" fill="url(#g206)"/>
<path d="M220,683.9L220,680.9C218.4,618.8 211.3,556.7 203.2,494.6V491.6H217.1V683.9Z" fill="url(#g207)"/>
<path d="M228,683.9L228,680.9C225.9,618.8 219.3,556.7 212.5,494.6V491.6H217.1V683.9Z" fill="url(#g208)"/>
<path d="M229,683.9L229,680.9C226.9,618.8 220.3,556.7 213.5,494.6V491.6H217.1V683.9Z" fill="#00f"/>
</g>
<path d="M110.2,680.9C109.2,618.8 99.3,556.7 85.3,494.6" fill="none" stroke="#fff" stroke-width="1.2" stroke-dasharray="4 2.2"/>
<path d="M186.6,680.9C186.6,618.8 180.3,556.7 167.9,494.6" fill="none" stroke="#fff" stroke-width="1.2" stroke-dasharray="4 2.2"/>
</g>
<rect x="50.5" y="494.6" width="162.6" height="186.3" fill="none" stroke="#000" stroke-width="1" stroke-opacity=".8"/>
<text x="70.8" y="693.6" class="t" text-anchor="middle">400</text>
<text x="111.5" y="693.6" class="t" text-anchor="middle">500</text>
<text x="152.1" y="693.6" class="t" text-anchor="middle">600</text>
<text x="192.8" y="693.6" class="t" text-anchor="middle">700</text>
<text x="47.7" y="685" class="t" text-anchor="end">0</text>
<text x="47.7" y="647.7" class="t" text-anchor="end">10</text>
<path d="M50.5,643.6h2.3" stroke="#000" stroke-width="0.9" stroke-opacity=".55"/>
<text x="47.7" y="610.5" class="t" text-anchor="end">20</text>
<path d="M50.5,606.4h2.3" stroke="#000" stroke-width="0.9" stroke-opacity=".55"/>
<text x="47.7" y="573.2" class="t" text-anchor="end">30</text>
<path d="M50.5,569.1h2.3" stroke="#000" stroke-width="0.9" stroke-opacity=".55"/>
<text x="47.7" y="536" class="t" text-anchor="end">40</text>
<path d="M50.5,531.9h2.3" stroke="#000" stroke-width="0.9" stroke-opacity=".55"/>
<text x="47.7" y="498.7" class="t" text-anchor="end">50</text>
<text x="132.6"  y="715.4" class="ax" text-anchor="middle">Wavelength (nm)</text>
<text transform="translate(25.8,582.2) rotate(-90) scale(1,1.1)" class="ax" text-anchor="middle">Incident angle (degree)</text>
<text x="2.6" y="497.2" class="pl">(e)</text>
<text x="174.2"  y="578.4" class="l90" text-anchor="middle">90%</text>
<g clip-path="url(#cf)"><rect x="283.7" y="492.6" width="165.90000000000003" height="190.29999999999995" fill="#00f"/><g filter="url(#bl)">
<path d="M250,683.9L250,680.9C250,618.8 243.3,556.7 230,494.6V491.6H451.6V683.9Z" fill="url(#g209)"/>
<path d="M289.6,683.9L289.6,680.9C289.1,618.8 281.5,556.7 270,494.6V491.6H451.6V683.9Z" fill="url(#g210)"/>
<path d="M290.7,683.9L290.7,680.9C290.3,618.8 283.3,556.7 271.9,494.6V491.6H451.6V683.9Z" fill="url(#g211)"/>
<path d="M291.8,683.9L291.8,680.9C291.6,618.8 285,556.7 273.8,494.6V491.6H451.6V683.9Z" fill="url(#g212)"/>
<path d="M292.9,683.9L292.9,680.9C292.8,618.8 286.8,556.7 275.6,494.6V491.6H451.6V683.9Z" fill="url(#g213)"/>
<path d="M294,683.9L294,680.9C294,618.8 288.6,556.7 277.5,494.6V491.6H451.6V683.9Z" fill="url(#g214)"/>
<path d="M294.5,683.9L294.5,680.9C294.6,618.8 289.6,556.7 278.5,494.6V491.6H451.6V683.9Z" fill="#00f"/>
<path d="M297.8,683.9L297.8,680.9C297.5,618.8 291.1,556.7 280.5,494.6V491.6H451.6V683.9Z" fill="url(#g215)"/>
<path d="M298.4,683.9L298.4,680.9C298,618.8 291.6,556.7 281.5,494.6V491.6H451.6V683.9Z" fill="url(#g216)"/>
<path d="M299.9,683.9L299.9,680.9C299.6,618.8 292.9,556.7 282.2,494.6V491.6H451.6V683.9Z" fill="url(#g217)"/>
<path d="M301.5,683.9L301.5,680.9C301.1,618.8 294.2,556.7 283,494.6V491.6H451.6V683.9Z" fill="url(#g218)"/>
<path d="M302.1,683.9L302.1,680.9C301.7,618.8 294.6,556.7 283.4,494.6V491.6H451.6V683.9Z" fill="url(#g219)"/>
<path d="M303.6,683.9L303.6,680.9C303,618.8 295.2,556.7 283.8,494.6V491.6H451.6V683.9Z" fill="url(#g220)"/>
<path d="M304,683.9L304,680.9C303.5,618.8 295.9,556.7 284.2,494.6V491.6H451.6V683.9Z" fill="url(#g221)"/>
<path d="M304.4,683.9L304.4,680.9C304.2,618.8 297.1,556.7 284.8,494.6V491.6H451.6V683.9Z" fill="#fc0"/>
<path d="M304.8,683.9L304.8,680.9C304.6,618.8 297.5,556.7 285,494.6V491.6H451.6V683.9Z" fill="#ff5300"/>
<path d="M305.6,683.9L305.6,680.9C305.5,618.8 298.7,556.7 286,494.6V491.6H451.6V683.9Z" fill="#ff1400"/>
<path d="M429.5,683.9L429.5,680.9C428.5,618.8 420.1,556.7 409,494.6V491.6H451.6V683.9Z" fill="#ff2100"/>
<path d="M430.8,683.9L430.8,680.9C429.8,618.8 421.6,556.7 410.6,494.6V491.6H451.6V683.9Z" fill="#ff3a00"/>
<path d="M432,683.9L432,680.9C431.1,618.8 423.1,556.7 412.1,494.6V491.6H451.6V683.9Z" fill="#ff5300"/>
<path d="M433.3,683.9L433.3,680.9C432.5,618.8 424.6,556.7 413.7,494.6V491.6H451.6V683.9Z" fill="#ff6c00"/>
<path d="M434.5,683.9L434.5,680.9C433.8,618.8 426.1,556.7 415.2,494.6V491.6H451.6V683.9Z" fill="#ff8500"/>
<path d="M435.8,683.9L435.8,680.9C435.1,618.8 427.7,556.7 416.8,494.6V491.6H451.6V683.9Z" fill="#ffa000"/>
<path d="M436.2,683.9L436.2,680.9C435.5,618.8 428.1,556.7 417.9,494.6V491.6H451.6V683.9Z" fill="#ffbd00"/>
<path d="M436.6,683.9L436.6,680.9C435.8,618.8 428.6,556.7 418.9,494.6V491.6H451.6V683.9Z" fill="#ffdb00"/>
<path d="M437,683.9L437,680.9C436.1,618.8 429.1,556.7 419.9,494.6V491.6H451.6V683.9Z" fill="#fff800"/>
<path d="M437.4,683.9L437.4,680.9C436.4,618.8 429.6,556.7 421,494.6V491.6H451.6V683.9Z" fill="#ecff00"/>
<path d="M437.7,683.9L437.7,680.9C436.5,618.8 429.9,556.7 422.2,494.6V491.6H451.6V683.9Z" fill="url(#g222)"/>
<path d="M437.9,683.9L437.9,680.9C436.5,618.8 430.3,556.7 423.3,494.6V491.6H451.6V683.9Z" fill="url(#g223)"/>
<path d="M438.2,683.9L438.2,680.9C436.5,618.8 430.7,556.7 424.5,494.6V491.6H451.6V683.9Z" fill="url(#g224)"/>
<path d="M438.5,683.9L438.5,680.9C436.8,618.8 431.4,556.7 425.7,494.6V491.6H451.6V683.9Z" fill="url(#g225)"/>
<path d="M438.8,683.9L438.8,680.9C437.2,618.8 432.1,556.7 426.8,494.6V491.6H451.6V683.9Z" fill="url(#g226)"/>
<path d="M439.1,683.9L439.1,680.9C437.5,618.8 432.8,556.7 428,494.6V491.6H451.6V683.9Z" fill="url(#g227)"/>
<path d="M441.6,683.9L441.6,680.9C440.5,618.8 435.8,556.7 430.3,494.6V491.6H451.6V683.9Z" fill="url(#g228)"/>
<path d="M444.1,683.9L444.1,680.9C443.5,618.8 438.9,556.7 432.6,494.6V491.6H451.6V683.9Z" fill="url(#g229)"/>
<path d="M446.5,683.9L446.5,680.9C446.3,618.8 442.1,556.7 435,494.6V491.6H451.6V683.9Z" fill="url(#g230)"/>
<path d="M449,683.9L449,680.9C449.1,618.8 445.4,556.7 437.3,494.6V491.6H451.6V683.9Z" fill="url(#g231)"/>
<path d="M450.2,683.9L450.2,680.9C450.1,618.8 445.7,556.7 438.1,494.6V491.6H451.6V683.9Z" fill="url(#g232)"/>
<path d="M451.4,683.9L451.4,680.9C451,618.8 446.2,556.7 439,494.6V491.6H451.6V683.9Z" fill="url(#g233)"/>
<path d="M452.6,683.9L452.6,680.9C451.9,618.8 446.6,556.7 439.8,494.6V491.6H451.6V683.9Z" fill="#00ffa0"/>
<path d="M453.8,683.9L453.8,680.9C452.7,618.8 447.2,556.7 440.7,494.6V491.6H451.6V683.9Z" fill="#00ffc7"/>
<path d="M455,683.9L455,680.9C453.5,618.8 447.8,556.7 441.5,494.6V491.6H451.6V683.9Z" fill="#00ffe9"/>
<path d="M456.2,683.9L456.2,680.9C454.7,618.8 449,556.7 442.7,494.6V491.6H451.6V683.9Z" fill="#00f8ff"/>
<path d="M457.4,683.9L457.4,680.9C455.9,618.8 450.2,556.7 443.9,494.6V491.6H451.6V683.9Z" fill="#00dbff"/>
<path d="M458.6,683.9L458.6,680.9C457.1,618.8 451.4,556.7 445.1,494.6V491.6H451.6V683.9Z" fill="#00bdff"/>
<path d="M459.8,683.9L459.8,680.9C458.3,618.8 452.6,556.7 446.3,494.6V491.6H451.6V683.9Z" fill="#00a0ff"/>
<path d="M461,683.9L461,680.9C459.5,618.8 453.8,556.7 447.5,494.6V491.6H451.6V683.9Z" fill="#0083ff"/>
<path d="M462.4,683.9L462.4,680.9C460.6,618.8 454.9,556.7 449,494.6V491.6H451.6V683.9Z" fill="#06f"/>
<path d="M463.8,683.9L463.8,680.9C461.7,618.8 456.1,556.7 450.5,494.6V491.6H451.6V683.9Z" fill="#0049ff"/>
<path d="M465.2,683.9L465.2,680.9C462.7,618.8 457.3,556.7 452,494.6V491.6H451.6V683.9Z" fill="#002cff"/>
<path d="M466.6,683.9L466.6,680.9C463.7,618.8 458.5,556.7 453.5,494.6V491.6H451.6V683.9Z" fill="#000fff"/>
</g>
<path d="M304.8,680.9C304.6,618.8 297.5,556.7 285,494.6" fill="none" stroke="#fff" stroke-width="1.2" stroke-dasharray="4 2.2"/>
<path d="M435.8,680.9C435.1,618.8 427.7,556.7 416.8,494.6" fill="none" stroke="#fff" stroke-width="1.2" stroke-dasharray="4 2.2"/>
</g>
<rect x="285.7" y="494.6" width="161.9" height="186.3" fill="none" stroke="#000" stroke-width="1" stroke-opacity=".8"/>
<text x="305.9" y="693.6" class="t" text-anchor="middle">400</text>
<text x="346.4" y="693.6" class="t" text-anchor="middle">500</text>
<text x="386.9" y="693.6" class="t" text-anchor="middle">600</text>
<text x="427.4" y="693.6" class="t" text-anchor="middle">700</text>
<text x="282.9" y="685" class="t" text-anchor="end">0</text>
<text x="282.9" y="647.7" class="t" text-anchor="end">10</text>
<path d="M285.7,643.6h2.3" stroke="#000" stroke-width="0.9" stroke-opacity=".55"/>
<text x="282.9" y="610.5" class="t" text-anchor="end">20</text>
<path d="M285.7,606.4h2.3" stroke="#000" stroke-width="0.9" stroke-opacity=".55"/>
<text x="282.9" y="573.2" class="t" text-anchor="end">30</text>
<path d="M285.7,569.1h2.3" stroke="#000" stroke-width="0.9" stroke-opacity=".55"/>
<text x="282.9" y="536" class="t" text-anchor="end">40</text>
<path d="M285.7,531.9h2.3" stroke="#000" stroke-width="0.9" stroke-opacity=".55"/>
<text x="282.9" y="498.7" class="t" text-anchor="end">50</text>
<text x="367.4"  y="715.4" class="ax" text-anchor="middle">Wavelength (nm)</text>
<text transform="translate(261,583.5) rotate(-90) scale(1,1.1)" class="ax" text-anchor="middle">Incident angle (degree)</text>
<text x="235" y="497.2" class="pl">(f)</text>
<text x="424"  y="578.3" class="l90" text-anchor="middle">90%</text>
<rect x="464" y="28.5" width="12.5" height="171.5" fill="url(#g234)"/>
<path d="M476.5,28.5V200" stroke="#111" stroke-width="1"/>
<path d="M476.5,200h2.5" stroke="#111" stroke-width="1"/>
<text x="508" y="203.9" class="cb" text-anchor="end">&lt;30%</text>
<path d="M476.5,175.5h2.5" stroke="#111" stroke-width="1"/>
<text x="508" y="179.4" class="cb" text-anchor="end">40%</text>
<path d="M476.5,151h2.5" stroke="#111" stroke-width="1"/>
<text x="508" y="154.9" class="cb" text-anchor="end">50%</text>
<path d="M476.5,126.5h2.5" stroke="#111" stroke-width="1"/>
<text x="508" y="130.4" class="cb" text-anchor="end">60%</text>
<path d="M476.5,102h2.5" stroke="#111" stroke-width="1"/>
<text x="508" y="105.9" class="cb" text-anchor="end">70%</text>
<path d="M476.5,77.5h2.5" stroke="#111" stroke-width="1"/>
<text x="508" y="81.4" class="cb" text-anchor="end">80%</text>
<path d="M476.5,53h2.5" stroke="#111" stroke-width="1"/>
<text x="508" y="56.9" class="cb" text-anchor="end">90%</text>
<path d="M476.5,28.5h2.5" stroke="#111" stroke-width="1"/>
<text x="508" y="32.4" class="cb" text-anchor="end">100%</text>
<text x="489.5" y="14.9" class="cbt" text-anchor="middle">Reflectance</text>
<rect x="464" y="269.6" width="12.5" height="172.09999999999997" fill="url(#g235)"/>
<path d="M476.5,269.6V441.7" stroke="#111" stroke-width="1"/>
<path d="M476.5,441.7h2.5" stroke="#111" stroke-width="1"/>
<text x="508" y="445.6" class="cb" text-anchor="end">&lt;30%</text>
<path d="M476.5,417.1h2.5" stroke="#111" stroke-width="1"/>
<text x="508" y="421" class="cb" text-anchor="end">40%</text>
<path d="M476.5,392.5h2.5" stroke="#111" stroke-width="1"/>
<text x="508" y="396.4" class="cb" text-anchor="end">50%</text>
<path d="M476.5,367.9h2.5" stroke="#111" stroke-width="1"/>
<text x="508" y="371.8" class="cb" text-anchor="end">60%</text>
<path d="M476.5,343.4h2.5" stroke="#111" stroke-width="1"/>
<text x="508" y="347.3" class="cb" text-anchor="end">70%</text>
<path d="M476.5,318.8h2.5" stroke="#111" stroke-width="1"/>
<text x="508" y="322.7" class="cb" text-anchor="end">80%</text>
<path d="M476.5,294.2h2.5" stroke="#111" stroke-width="1"/>
<text x="508" y="298.1" class="cb" text-anchor="end">90%</text>
<path d="M476.5,269.6h2.5" stroke="#111" stroke-width="1"/>
<text x="508" y="273.5" class="cb" text-anchor="end">100%</text>
<text x="489.5" y="256" class="cbt" text-anchor="middle">Reflectance</text>
<rect x="464" y="509.0" width="12.5" height="172.29999999999995" fill="url(#g236)"/>
<path d="M476.5,509.0V681.3" stroke="#111" stroke-width="1"/>
<path d="M476.5,681.3h2.5" stroke="#111" stroke-width="1"/>
<text x="508" y="685.2" class="cb" text-anchor="end">&lt;30%</text>
<path d="M476.5,656.7h2.5" stroke="#111" stroke-width="1"/>
<text x="508" y="660.6" class="cb" text-anchor="end">40%</text>
<path d="M476.5,632.1h2.5" stroke="#111" stroke-width="1"/>
<text x="508" y="636" class="cb" text-anchor="end">50%</text>
<path d="M476.5,607.5h2.5" stroke="#111" stroke-width="1"/>
<text x="508" y="611.4" class="cb" text-anchor="end">60%</text>
<path d="M476.5,582.8h2.5" stroke="#111" stroke-width="1"/>
<text x="508" y="586.7" class="cb" text-anchor="end">70%</text>
<path d="M476.5,558.2h2.5" stroke="#111" stroke-width="1"/>
<text x="508" y="562.1" class="cb" text-anchor="end">80%</text>
<path d="M476.5,533.6h2.5" stroke="#111" stroke-width="1"/>
<text x="508" y="537.5" class="cb" text-anchor="end">90%</text>
<path d="M476.5,509h2.5" stroke="#111" stroke-width="1"/>
<text x="508" y="512.9" class="cb" text-anchor="end">100%</text>
<text x="489.5" y="495.4" class="cbt" text-anchor="middle">Reflectance</text>
<path d="M54.9,908.8 L64,908.8 L72.9,908.4 L78,907 L82.7,904.9 L86,902.8 L89.2,900.6 L92.5,899.3 L95.8,897.7 L99,895.5 L102.3,892.8 L105.5,888.8 L108.8,883.6 L112,877.6 L115.4,870.6 L118,863.6 L120.3,855.9 L122.8,847.5 L125.2,837.9 L127.7,825.5 L130.1,811.7 L132.2,800 L134.3,788.8 L136,780 L137.6,772.5 L139,767.8 L140.2,765.3 L141.4,763.8 L142.5,763.3 L143.7,764 L144.8,766 L146.1,770 L147.4,775.8 L149,784 L150.7,793.7 L152.6,806 L154.6,818.3 L156.8,832 L158.9,844.4 L160.9,855 L162.8,864 L165.2,873 L167.7,880.4 L170.2,887.5 L172.6,893.5 L175,898 L177.5,901.6 L180,904.4 L182.4,906.5 L185,907.8 L187.3,908.5 L190.5,908.2 L193.8,907.5 L197,908.3 L200.4,908.8 L206,908.2 L212.8,908.3 L213,908.4 L54.7,908.4Z" fill="url(#g237)"/>
<path d="M54.9,908.8 L64,908.8 L72.9,908.4 L78,907 L82.7,904.9 L86,902.8 L89.2,900.6 L92.5,899.3 L95.8,897.7 L99,895.5 L102.3,892.8 L105.5,888.8 L108.8,883.6 L112,877.6 L115.4,870.6 L118,863.6 L120.3,855.9 L122.8,847.5 L125.2,837.9 L127.7,825.5 L130.1,811.7 L132.2,800 L134.3,788.8 L136,780 L137.6,772.5 L139,767.8 L140.2,765.3 L141.4,763.8 L142.5,763.3 L143.7,764 L144.8,766 L146.1,770 L147.4,775.8 L149,784 L150.7,793.7 L152.6,806 L154.6,818.3 L156.8,832 L158.9,844.4 L160.9,855 L162.8,864 L165.2,873 L167.7,880.4 L170.2,887.5 L172.6,893.5 L175,898 L177.5,901.6 L180,904.4 L182.4,906.5 L185,907.8 L187.3,908.5 L190.5,908.2 L193.8,907.5 L197,908.3 L200.4,908.8 L206,908.2 L212.8,908.3" fill="none" stroke="#111" stroke-width="1.8" stroke-linejoin="round"/>
<rect x="54.7" y="735" width="158.3" height="173.4" fill="none" stroke="#000" stroke-width="2"/>
<path d="M54.7,879.9h4.3" stroke="#000" stroke-width="1.3"/>
<path d="M54.7,850.7h4.3" stroke="#000" stroke-width="1.3"/>
<path d="M54.7,821.5h4.3" stroke="#000" stroke-width="1.3"/>
<path d="M54.7,792.4h4.3" stroke="#000" stroke-width="1.3"/>
<path d="M54.7,763.2h4.3" stroke="#000" stroke-width="1.3"/>
<path d="M89.1,908.4v-4.3" stroke="#000" stroke-width="1.3"/>
<text x="89.1" y="923" class="tg" text-anchor="middle">500</text>
<path d="M157.9,908.4v-4.3" stroke="#000" stroke-width="1.3"/>
<text x="157.9" y="923" class="tg" text-anchor="middle">600</text>
<path d="M123.5,908.4v-2.8" stroke="#000" stroke-width="1.3"/>
<path d="M192.4,908.4v-2.8" stroke="#000" stroke-width="1.3"/>
<text x="133.8" y="943" class="ax2" text-anchor="middle">Wavelength (nm)</text>
<text transform="translate(43.3,822) rotate(-90)" class="axg" text-anchor="middle">EL intensity (arb. units)</text>
<text x="2" y="735.6" class="pl">(g)</text>
<g clip-path="url(#ch)" fill="none" stroke-linejoin="round">
<path d="M286.4,833.1 L286.8,808.8 L287.4,793.6 L292,766.3 L295,752.7 L298,749.6 L320,748.7 L495,748.7 L500,749.6 L504,751.9 L508.6,755.7" stroke="#5df25d" stroke-width="1.6"/>
<path d="M286.2,827 L288,805.7 L290,781.5 L292,763.3 L293.5,755.7 L295.5,751.1 L299,749.2 L320,748.7 L493,748.7 L497,749.6 L501,751.4 L505,754.9 L508.6,759.5" stroke="#6a2fd8" stroke-width="1.6"/>
<path d="M286.2,754.2 L288,751.1 L291,749.2 L300,748.4 L478,748.1 L482,748.7 L486,750.8 L489,753.7 L492,758.7 L495,765.2 L498,773.9 L501,783 L503,788.3 L505,792.1 L507,794.4 L508.6,795.1" stroke="#e0924a" stroke-width="1.6"/>
<path d="M286.2,761.4 L288,763 L289.5,763.3 L291,761.8 L293,757.2 L295.5,752.7 L298,750.7 L302,749.6 L330,749.2 L400,748.7 L440,748.7 L445,749.6 L449,751.9 L452.7,754.5 L456,757.5 L458.5,759 L462,759.3 L466,758.4 L469,759 L472,761.8 L475,767.8 L477.7,773.9 L480,780 L482.5,784.5 L484.5,786.3 L486.3,786.6 L489,785.3 L493,784.2 L496,786 L498.8,789.8 L501.5,798.2 L504.6,806.5 L506.5,813.3 L508.6,820.9" stroke="#111" stroke-width="1.6"/>
<path d="M286.2,833.1 L289,839.1 L291,849.7 L292.5,852.8 L293.5,839.1 L295.5,789.1 L297.2,766.3 L298.6,757.2 L300.5,751.1 L304,749.2 L508.6,748.7" stroke="#5df25d" stroke-width="1.6" stroke-dasharray="5 4"/>
<path d="M286.2,814.8 L288,839.1 L289.6,855 L291,839.1 L293,801.2 L294.8,773.9 L296.3,760.2 L298,753.4 L301,749.6 L330,749.2 L345,750.1 L352,751.1 L358,751.3 L366,750.4 L380,749.5 L400,749 L508.6,748.9" stroke="#6a2fd8" stroke-width="1.6" stroke-dasharray="5 4"/>
<path d="M286,754.2 L288,750.4 L292,748.9 L508.6,748.6" stroke="#e0924a" stroke-width="1.6" stroke-dasharray="5 4.6"/>
<path d="M286.2,749.6 L340,749.6 L348,751.1 L353,754.2 L357,754.8 L362,753.4 L372,750.8 L390,749.6 L420,749 L460,749 L466,749.6 L470,751.1 L474,754.9 L478,760.2 L481.5,767.8 L485,778.4 L488,786.8 L491,792.1 L494,794.7 L497,795.1 L500,793.6 L502.5,792.1" stroke="#111" stroke-width="1.6" stroke-dasharray="5 4"/>
</g>
<rect x="286.2" y="733.2" width="222.3" height="174.2" fill="none" stroke="#000" stroke-width="1.6"/>
<path d="M286.2,900.2h4.2" stroke="#000" stroke-width="1.2"/>
<text x="281.6" y="904.4" class="t2" text-anchor="end">0</text>
<path d="M286.2,885h2.6" stroke="#000" stroke-width="1.2"/>
<path d="M286.2,869.9h4.2" stroke="#000" stroke-width="1.2"/>
<text x="281.6" y="874.1" class="t2" text-anchor="end">20</text>
<path d="M286.2,854.7h2.6" stroke="#000" stroke-width="1.2"/>
<path d="M286.2,839.5h4.2" stroke="#000" stroke-width="1.2"/>
<text x="281.6" y="843.7" class="t2" text-anchor="end">40</text>
<path d="M286.2,824.4h2.6" stroke="#000" stroke-width="1.2"/>
<path d="M286.2,809.2h4.2" stroke="#000" stroke-width="1.2"/>
<text x="281.6" y="813.4" class="t2" text-anchor="end">60</text>
<path d="M286.2,794h2.6" stroke="#000" stroke-width="1.2"/>
<path d="M286.2,778.8h4.2" stroke="#000" stroke-width="1.2"/>
<text x="281.6" y="783" class="t2" text-anchor="end">80</text>
<path d="M286.2,763.7h2.6" stroke="#000" stroke-width="1.2"/>
<path d="M286.2,748.5h4.2" stroke="#000" stroke-width="1.2"/>
<text x="281.6" y="752.7" class="t2" text-anchor="end">100</text>
<path d="M298.5,907.4v-4.2" stroke="#000" stroke-width="1.2"/>
<text x="298.5" y="922.6" class="t2" text-anchor="middle">400</text>
<path d="M338.9,907.4v-2.6" stroke="#000" stroke-width="1.2"/>
<path d="M379.2,907.4v-4.2" stroke="#000" stroke-width="1.2"/>
<text x="379.2" y="922.6" class="t2" text-anchor="middle">500</text>
<path d="M419.6,907.4v-2.6" stroke="#000" stroke-width="1.2"/>
<path d="M460,907.4v-4.2" stroke="#000" stroke-width="1.2"/>
<text x="460" y="922.6" class="t2" text-anchor="middle">600</text>
<path d="M500.4,907.4v-2.6" stroke="#000" stroke-width="1.2"/>
 <text x="398" y="941.2" class="ax2" text-anchor="middle">Wavelength (nm)</text>
<text transform="translate(257,823.5) rotate(-90)" class="axh" text-anchor="middle">Reflectance (%)</text>
<text x="235.6" y="735.6" class="pl">(h)</text>
<text x="320.8" y="791.6" class="lg">Measured</text>
<text x="391.6" y="791.6" class="lg">Calculated</text>
<path d="M320.2,804.6H345.5" stroke="#5df25d" stroke-width="1.5"/>
<text x="349" y="808.4" class="lg">0°</text>
<path d="M390.2,804.6H416.7" stroke="#5df25d" stroke-width="1.5" stroke-dasharray="6.2 5.5"/>
<text x="419" y="808.4" class="lg">0°</text>
<path d="M320.2,821.4H345.5" stroke="#6a2fd8" stroke-width="1.5"/>
<text x="349" y="825.1" class="lg">10°</text>
<path d="M390.2,821.4H416.7" stroke="#6a2fd8" stroke-width="1.5" stroke-dasharray="6.2 5.5"/>
<text x="419" y="825.1" class="lg">10°</text>
<path d="M320.2,838.1H345.5" stroke="#e0924a" stroke-width="1.5"/>
<text x="349" y="841.9" class="lg">30°</text>
<path d="M390.2,838.1H416.7" stroke="#e0924a" stroke-width="1.5" stroke-dasharray="6.2 5.5"/>
<text x="419" y="841.9" class="lg">30°</text>
<path d="M320.2,854.9H345.5" stroke="#111" stroke-width="1.5"/>
<text x="349" y="858.6" class="lg">50°</text>
<path d="M390.2,854.9H416.7" stroke="#111" stroke-width="1.5" stroke-dasharray="6.2 5.5"/>
<text x="419" y="858.6" class="lg">50°</text>
</svg>
</body></html>
